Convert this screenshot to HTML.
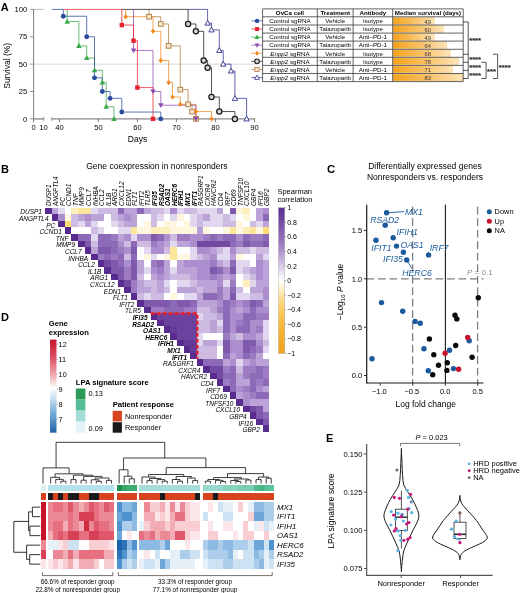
<!DOCTYPE html>
<html><head><meta charset="utf-8"><title>Figure</title>
<style>
html,body{margin:0;padding:0;background:#fff;}
body{width:520px;height:593px;overflow:hidden;}
svg{display:block;font-family:"Liberation Sans",sans-serif;}
</style></head><body>
<svg width="520" height="593" viewBox="0 0 520 593">
<rect width="520" height="593" fill="#ffffff"/>
<g id="panelA">
<text x="0.80" y="10.60" font-size="11" font-weight="bold">A</text>
<line x1="33.60" y1="64.15" x2="255.50" y2="64.15" stroke="#bdbdbd" stroke-width="0.6"/>
<line x1="33.60" y1="9.10" x2="33.60" y2="122.30" stroke="#6e6e6e" stroke-width="0.9"/>
<line x1="33.60" y1="118.90" x2="43.80" y2="118.90" stroke="#8a8a8a" stroke-width="1.4"/>
<line x1="51.80" y1="118.90" x2="255.20" y2="118.90" stroke="#8a8a8a" stroke-width="1.4"/>
<line x1="43.80" y1="116.90" x2="43.80" y2="120.90" stroke="#6a6a6a" stroke-width="0.7"/>
<line x1="51.80" y1="116.90" x2="51.80" y2="120.90" stroke="#6a6a6a" stroke-width="0.7"/>
<line x1="30.00" y1="118.90" x2="33.60" y2="118.90" stroke="#6a6a6a" stroke-width="0.7"/>
<text x="27.20" y="121.60" font-size="7.6" text-anchor="end">0</text>
<line x1="30.00" y1="91.53" x2="33.60" y2="91.53" stroke="#6a6a6a" stroke-width="0.7"/>
<text x="27.20" y="94.23" font-size="7.6" text-anchor="end">25</text>
<line x1="30.00" y1="64.15" x2="33.60" y2="64.15" stroke="#6a6a6a" stroke-width="0.7"/>
<text x="27.20" y="66.85" font-size="7.6" text-anchor="end">50</text>
<line x1="30.00" y1="36.78" x2="33.60" y2="36.78" stroke="#6a6a6a" stroke-width="0.7"/>
<text x="27.20" y="39.48" font-size="7.6" text-anchor="end">75</text>
<line x1="30.00" y1="9.40" x2="33.60" y2="9.40" stroke="#6a6a6a" stroke-width="0.7"/>
<text x="27.20" y="12.10" font-size="7.6" text-anchor="end">100</text>
<text x="33.60" y="129.90" font-size="7.6" text-anchor="middle">0</text>
<text x="43.50" y="129.90" font-size="7.6" text-anchor="middle">10</text>
<line x1="59.40" y1="118.90" x2="59.40" y2="122.20" stroke="#5a5a5a" stroke-width="0.8"/>
<text x="59.40" y="129.90" font-size="7.6" text-anchor="middle">40</text>
<line x1="98.40" y1="118.90" x2="98.40" y2="122.20" stroke="#5a5a5a" stroke-width="0.8"/>
<text x="98.40" y="129.90" font-size="7.6" text-anchor="middle">50</text>
<line x1="137.40" y1="118.90" x2="137.40" y2="122.20" stroke="#5a5a5a" stroke-width="0.8"/>
<text x="137.40" y="129.90" font-size="7.6" text-anchor="middle">60</text>
<line x1="176.40" y1="118.90" x2="176.40" y2="122.20" stroke="#5a5a5a" stroke-width="0.8"/>
<text x="176.40" y="129.90" font-size="7.6" text-anchor="middle">70</text>
<line x1="215.40" y1="118.90" x2="215.40" y2="122.20" stroke="#5a5a5a" stroke-width="0.8"/>
<text x="215.40" y="129.90" font-size="7.6" text-anchor="middle">80</text>
<line x1="254.40" y1="118.90" x2="254.40" y2="122.20" stroke="#5a5a5a" stroke-width="0.8"/>
<text x="254.40" y="129.90" font-size="7.6" text-anchor="middle">90</text>
<text x="137.50" y="141.60" font-size="8.5" text-anchor="middle">Days</text>
<text x="10.00" y="65.80" font-size="8.5" text-anchor="middle" transform="rotate(-90 10.00 65.80)">Survival (%)</text>
<line x1="33.60" y1="9.40" x2="43.60" y2="9.40" stroke="#7d8596" stroke-width="0.6"/>
<path d="M188.10 9.40 H207.60 V23.09 H211.50 V29.93 H219.30 V50.46 H223.20 V64.15 H231.00 V70.99 H234.90 V98.37 H246.60 V118.90" stroke="#2e3192" stroke-width="0.75" fill="none"/>
<path d="M149.10 9.40 H149.10 V16.74 H160.80 V23.96 H168.60 V45.86 H180.30 V89.66 H188.10 V104.34 H192.00 V111.56 H195.90 V118.90" stroke="#b07a3a" stroke-width="0.75" fill="none"/>
<path d="M121.80 9.40 H188.10 V23.96 H195.90 V31.30 H203.70 V60.54 H207.60 V67.76 H211.50 V97.00 H219.30 V111.56 H234.90 V118.90" stroke="#1a1a1a" stroke-width="0.75" fill="none"/>
<path d="M125.70 9.40 H125.70 V16.74 H153.00 V31.30 H160.80 V60.54 H168.60 V82.44 H172.50 V97.00 H180.30 V104.34 H195.90 V111.56 H211.50 V118.90" stroke="#f28a22" stroke-width="0.75" fill="none"/>
<path d="M133.50 9.40 H133.50 V50.46 H153.00 V91.53 H160.80 V105.21 H195.90 V118.90" stroke="#8e4bb0" stroke-width="0.75" fill="none"/>
<path d="M67.20 9.40 H67.20 V21.55 H78.90 V45.86 H86.70 V58.02 H94.50 V70.28 H102.30 V82.44 H106.20 V106.75 H114.00 V118.90" stroke="#3aaa49" stroke-width="0.75" fill="none"/>
<path d="M63.30 9.40 H121.80 V25.06 H133.50 V40.72 H137.40 V87.58 H153.00 V118.90" stroke="#e8202c" stroke-width="0.75" fill="none"/>
<path d="M51.79 9.40 H63.30 V16.24 H86.70 V36.78 H94.50 V77.84 H102.30 V91.53 H110.10 V98.37 H121.80 V112.06 H160.80 V118.90" stroke="#2b4b9b" stroke-width="0.75" fill="none"/>
<path d="M207.60 20.29 L210.26 25.10 L204.94 25.10 Z" fill="#ffffff" stroke="#2e3192" stroke-width="0.9"/>
<path d="M211.50 27.13 L214.16 31.95 L208.84 31.95 Z" fill="#ffffff" stroke="#2e3192" stroke-width="0.9"/>
<path d="M219.30 47.66 L221.96 52.48 L216.64 52.48 Z" fill="#ffffff" stroke="#2e3192" stroke-width="0.9"/>
<path d="M223.20 61.35 L225.86 66.17 L220.54 66.17 Z" fill="#ffffff" stroke="#2e3192" stroke-width="0.9"/>
<path d="M231.00 68.19 L233.66 73.01 L228.34 73.01 Z" fill="#ffffff" stroke="#2e3192" stroke-width="0.9"/>
<path d="M234.90 95.57 L237.56 100.38 L232.24 100.38 Z" fill="#ffffff" stroke="#2e3192" stroke-width="0.9"/>
<path d="M246.60 116.10 L249.26 120.92 L243.94 120.92 Z" fill="#ffffff" stroke="#2e3192" stroke-width="0.9"/>
<rect x="146.75" y="14.39" width="4.70" height="4.70" fill="#f4e6cf" stroke="#b07a3a" stroke-width="0.9"/>
<rect x="158.45" y="21.61" width="4.70" height="4.70" fill="#f4e6cf" stroke="#b07a3a" stroke-width="0.9"/>
<rect x="166.25" y="43.51" width="4.70" height="4.70" fill="#f4e6cf" stroke="#b07a3a" stroke-width="0.9"/>
<rect x="177.95" y="87.31" width="4.70" height="4.70" fill="#f4e6cf" stroke="#b07a3a" stroke-width="0.9"/>
<rect x="185.75" y="101.99" width="4.70" height="4.70" fill="#f4e6cf" stroke="#b07a3a" stroke-width="0.9"/>
<rect x="189.65" y="109.21" width="4.70" height="4.70" fill="#f4e6cf" stroke="#b07a3a" stroke-width="0.9"/>
<rect x="193.55" y="116.55" width="4.70" height="4.70" fill="#f4e6cf" stroke="#b07a3a" stroke-width="0.9"/>
<circle cx="188.10" cy="23.96" r="2.6" fill="#d4d4d4" stroke="#1a1a1a" stroke-width="1.25"/>
<circle cx="195.90" cy="31.30" r="2.6" fill="#d4d4d4" stroke="#1a1a1a" stroke-width="1.25"/>
<circle cx="203.70" cy="60.54" r="2.6" fill="#d4d4d4" stroke="#1a1a1a" stroke-width="1.25"/>
<circle cx="207.60" cy="67.76" r="2.6" fill="#d4d4d4" stroke="#1a1a1a" stroke-width="1.25"/>
<circle cx="211.50" cy="97.00" r="2.6" fill="#d4d4d4" stroke="#1a1a1a" stroke-width="1.25"/>
<circle cx="219.30" cy="111.56" r="2.6" fill="#d4d4d4" stroke="#1a1a1a" stroke-width="1.25"/>
<circle cx="234.90" cy="118.90" r="2.6" fill="#d4d4d4" stroke="#1a1a1a" stroke-width="1.25"/>
<path d="M125.70 14.04 L127.86 16.74 L125.70 19.44 L123.54 16.74 Z" fill="#f28a22"/>
<path d="M153.00 28.60 L155.16 31.30 L153.00 34.00 L150.84 31.30 Z" fill="#f28a22"/>
<path d="M160.80 57.84 L162.96 60.54 L160.80 63.24 L158.64 60.54 Z" fill="#f28a22"/>
<path d="M168.60 79.74 L170.76 82.44 L168.60 85.14 L166.44 82.44 Z" fill="#f28a22"/>
<path d="M172.50 94.30 L174.66 97.00 L172.50 99.70 L170.34 97.00 Z" fill="#f28a22"/>
<path d="M180.30 101.64 L182.46 104.34 L180.30 107.04 L178.14 104.34 Z" fill="#f28a22"/>
<path d="M195.90 108.86 L198.06 111.56 L195.90 114.26 L193.74 111.56 Z" fill="#f28a22"/>
<path d="M211.50 116.20 L213.66 118.90 L211.50 121.60 L209.34 118.90 Z" fill="#f28a22"/>
<path d="M133.50 53.26 L136.16 48.45 L130.84 48.45 Z" fill="#8e4bb0"/>
<path d="M153.00 94.33 L155.66 89.51 L150.34 89.51 Z" fill="#8e4bb0"/>
<path d="M160.80 108.01 L163.46 103.20 L158.14 103.20 Z" fill="#8e4bb0"/>
<path d="M195.90 121.70 L198.56 116.88 L193.24 116.88 Z" fill="#8e4bb0"/>
<path d="M67.20 18.65 L69.95 23.64 L64.45 23.64 Z" fill="#3aaa49"/>
<path d="M78.90 42.96 L81.66 47.95 L76.15 47.95 Z" fill="#3aaa49"/>
<path d="M86.70 55.12 L89.45 60.11 L83.95 60.11 Z" fill="#3aaa49"/>
<path d="M94.50 67.38 L97.25 72.37 L91.75 72.37 Z" fill="#3aaa49"/>
<path d="M102.30 79.54 L105.05 84.52 L99.55 84.52 Z" fill="#3aaa49"/>
<path d="M106.20 103.85 L108.95 108.83 L103.44 108.83 Z" fill="#3aaa49"/>
<path d="M114.00 116.00 L116.75 120.99 L111.25 120.99 Z" fill="#3aaa49"/>
<rect x="119.60" y="22.86" width="4.40" height="4.40" fill="#e8202c"/>
<rect x="131.30" y="38.52" width="4.40" height="4.40" fill="#e8202c"/>
<rect x="135.20" y="85.38" width="4.40" height="4.40" fill="#e8202c"/>
<rect x="150.80" y="116.70" width="4.40" height="4.40" fill="#e8202c"/>
<circle cx="63.30" cy="16.24" r="2.45" fill="#2b4b9b"/>
<circle cx="86.70" cy="36.78" r="2.45" fill="#2b4b9b"/>
<circle cx="94.50" cy="77.84" r="2.45" fill="#2b4b9b"/>
<circle cx="102.30" cy="91.53" r="2.45" fill="#2b4b9b"/>
<circle cx="110.10" cy="98.37" r="2.45" fill="#2b4b9b"/>
<circle cx="121.80" cy="112.06" r="2.45" fill="#2b4b9b"/>
<circle cx="160.80" cy="118.90" r="2.45" fill="#2b4b9b"/>
<defs><linearGradient id="og" x1="0" x2="1" y1="0" y2="0"><stop offset="0" stop-color="#f5a21b"/><stop offset="0.45" stop-color="#f8bd5c"/><stop offset="1" stop-color="#fde4ba"/></linearGradient></defs>
<rect x="393.10" y="17.50" width="41.09" height="6.80" fill="url(#og)" stroke="#f6c06a" stroke-width="0.4"/>
<rect x="393.10" y="25.70" width="50.31" height="6.70" fill="url(#og)" stroke="#f6c06a" stroke-width="0.4"/>
<rect x="393.10" y="33.80" width="41.09" height="6.60" fill="url(#og)" stroke="#f6c06a" stroke-width="0.4"/>
<rect x="393.10" y="41.80" width="53.67" height="6.80" fill="url(#og)" stroke="#f6c06a" stroke-width="0.4"/>
<rect x="393.10" y="50.00" width="57.02" height="6.60" fill="url(#og)" stroke="#f6c06a" stroke-width="0.4"/>
<rect x="393.10" y="58.00" width="65.41" height="6.70" fill="url(#og)" stroke="#f6c06a" stroke-width="0.4"/>
<rect x="393.10" y="66.10" width="59.54" height="6.70" fill="url(#og)" stroke="#f6c06a" stroke-width="0.4"/>
<rect x="393.10" y="74.20" width="69.60" height="6.70" fill="url(#og)" stroke="#f6c06a" stroke-width="0.4"/>
<line x1="262.60" y1="8.90" x2="463.20" y2="8.90" stroke="#3a3a3a" stroke-width="0.8"/>
<line x1="262.60" y1="16.80" x2="463.20" y2="16.80" stroke="#3a3a3a" stroke-width="0.8"/>
<line x1="262.60" y1="25.00" x2="463.20" y2="25.00" stroke="#3a3a3a" stroke-width="0.8"/>
<line x1="262.60" y1="33.10" x2="463.20" y2="33.10" stroke="#3a3a3a" stroke-width="0.8"/>
<line x1="262.60" y1="41.10" x2="463.20" y2="41.10" stroke="#3a3a3a" stroke-width="0.8"/>
<line x1="262.60" y1="49.30" x2="463.20" y2="49.30" stroke="#3a3a3a" stroke-width="0.8"/>
<line x1="262.60" y1="57.30" x2="463.20" y2="57.30" stroke="#3a3a3a" stroke-width="0.8"/>
<line x1="262.60" y1="65.40" x2="463.20" y2="65.40" stroke="#3a3a3a" stroke-width="0.8"/>
<line x1="262.60" y1="73.50" x2="463.20" y2="73.50" stroke="#3a3a3a" stroke-width="0.8"/>
<line x1="262.60" y1="81.60" x2="463.20" y2="81.60" stroke="#3a3a3a" stroke-width="0.8"/>
<line x1="262.60" y1="8.90" x2="262.60" y2="81.60" stroke="#3a3a3a" stroke-width="0.8"/>
<line x1="317.30" y1="8.90" x2="317.30" y2="81.60" stroke="#3a3a3a" stroke-width="0.8"/>
<line x1="353.10" y1="8.90" x2="353.10" y2="81.60" stroke="#3a3a3a" stroke-width="0.8"/>
<line x1="392.70" y1="8.90" x2="392.70" y2="81.60" stroke="#3a3a3a" stroke-width="0.8"/>
<line x1="463.20" y1="8.90" x2="463.20" y2="81.60" stroke="#3a3a3a" stroke-width="0.8"/>
<text x="289.95" y="14.90" font-size="6.2" text-anchor="middle" font-weight="bold">OvCa cell</text>
<text x="335.20" y="14.90" font-size="6.2" text-anchor="middle" font-weight="bold">Treatment</text>
<text x="372.90" y="14.90" font-size="6.2" text-anchor="middle" font-weight="bold">Antibody</text>
<text x="427.95" y="14.90" font-size="6.2" text-anchor="middle" font-weight="bold">Median survival (days)</text>
<text x="289.95" y="23.10" font-size="6.2" text-anchor="middle">Control sgRNA</text>
<text x="335.20" y="23.10" font-size="6.2" text-anchor="middle">Vehicle</text>
<text x="372.90" y="23.10" font-size="6.2" text-anchor="middle">Isotype</text>
<text x="427.80" y="23.70" font-size="5.8" text-anchor="middle" fill="#3a3a3a">49</text>
<text x="289.95" y="31.30" font-size="6.2" text-anchor="middle">Control sgRNA</text>
<text x="335.20" y="31.30" font-size="6.2" text-anchor="middle">Talazoparib</text>
<text x="372.90" y="31.30" font-size="6.2" text-anchor="middle">Isotype</text>
<text x="427.80" y="31.90" font-size="5.8" text-anchor="middle" fill="#3a3a3a">60</text>
<text x="289.95" y="39.40" font-size="6.2" text-anchor="middle">Control sgRNA</text>
<text x="335.20" y="39.40" font-size="6.2" text-anchor="middle">Vehicle</text>
<text x="372.90" y="39.40" font-size="6.2" text-anchor="middle">Anti–PD-1</text>
<text x="427.80" y="40.00" font-size="5.8" text-anchor="middle" fill="#3a3a3a">49</text>
<text x="289.95" y="47.40" font-size="6.2" text-anchor="middle">Control sgRNA</text>
<text x="335.20" y="47.40" font-size="6.2" text-anchor="middle">Talazoparib</text>
<text x="372.90" y="47.40" font-size="6.2" text-anchor="middle">Anti–PD-1</text>
<text x="427.80" y="48.00" font-size="5.8" text-anchor="middle" fill="#3a3a3a">64</text>
<text x="289.95" y="55.60" font-size="6.2" text-anchor="middle"><tspan font-style="italic">Enpp2</tspan> sgRNA</text>
<text x="335.20" y="55.60" font-size="6.2" text-anchor="middle">Vehicle</text>
<text x="372.90" y="55.60" font-size="6.2" text-anchor="middle">Isotype</text>
<text x="427.80" y="56.20" font-size="5.8" text-anchor="middle" fill="#3a3a3a">68</text>
<text x="289.95" y="63.60" font-size="6.2" text-anchor="middle"><tspan font-style="italic">Enpp2</tspan> sgRNA</text>
<text x="335.20" y="63.60" font-size="6.2" text-anchor="middle">Talazoparib</text>
<text x="372.90" y="63.60" font-size="6.2" text-anchor="middle">Isotype</text>
<text x="427.80" y="64.20" font-size="5.8" text-anchor="middle" fill="#3a3a3a">78</text>
<text x="289.95" y="71.70" font-size="6.2" text-anchor="middle"><tspan font-style="italic">Enpp2</tspan> sgRNA</text>
<text x="335.20" y="71.70" font-size="6.2" text-anchor="middle">Vehicle</text>
<text x="372.90" y="71.70" font-size="6.2" text-anchor="middle">Anti–PD-1</text>
<text x="427.80" y="72.30" font-size="5.8" text-anchor="middle" fill="#3a3a3a">71</text>
<text x="289.95" y="79.80" font-size="6.2" text-anchor="middle"><tspan font-style="italic">Enpp2</tspan> sgRNA</text>
<text x="335.20" y="79.80" font-size="6.2" text-anchor="middle">Talazoparib</text>
<text x="372.90" y="79.80" font-size="6.2" text-anchor="middle">Anti–PD-1</text>
<text x="427.80" y="80.40" font-size="5.8" text-anchor="middle" fill="#3a3a3a">83</text>
<line x1="251.30" y1="20.90" x2="262.20" y2="20.90" stroke="#2b4b9b" stroke-width="0.7"/>
<circle cx="257.00" cy="20.90" r="2.205" fill="#2b4b9b"/>
<line x1="251.30" y1="29.05" x2="262.20" y2="29.05" stroke="#e8202c" stroke-width="0.7"/>
<rect x="255.02" y="27.07" width="3.96" height="3.96" fill="#e8202c"/>
<line x1="251.30" y1="37.10" x2="262.20" y2="37.10" stroke="#3aaa49" stroke-width="0.7"/>
<path d="M257.00 34.49 L259.48 38.98 L254.52 38.98 Z" fill="#3aaa49"/>
<line x1="251.30" y1="45.20" x2="262.20" y2="45.20" stroke="#8e4bb0" stroke-width="0.7"/>
<path d="M257.00 47.72 L259.39 43.39 L254.61 43.39 Z" fill="#8e4bb0"/>
<line x1="251.30" y1="53.30" x2="262.20" y2="53.30" stroke="#f28a22" stroke-width="0.7"/>
<path d="M257.00 50.87 L258.94 53.30 L257.00 55.73 L255.06 53.30 Z" fill="#f28a22"/>
<line x1="251.30" y1="61.35" x2="262.20" y2="61.35" stroke="#1a1a1a" stroke-width="0.7"/>
<circle cx="257.00" cy="61.35" r="2.3400000000000003" fill="#d4d4d4" stroke="#1a1a1a" stroke-width="1.125"/>
<line x1="251.30" y1="69.45" x2="262.20" y2="69.45" stroke="#b07a3a" stroke-width="0.7"/>
<rect x="254.88" y="67.34" width="4.23" height="4.23" fill="#f4e6cf" stroke="#b07a3a" stroke-width="0.81"/>
<line x1="251.30" y1="77.55" x2="262.20" y2="77.55" stroke="#2e3192" stroke-width="0.7"/>
<path d="M257.00 75.03 L259.39 79.36 L254.61 79.36 Z" fill="#ffffff" stroke="#2e3192" stroke-width="0.81"/>
<path d="M463.2 21.9 H468.2 V78.5 H463.2 M463.2 54.2 H468.2 M463.2 62.3 H468.2 M463.2 70.4 H468.2" stroke="#2a2a2a" stroke-width="0.8" fill="none"/>
<path d="M481.3 62.3 H486.1 V78.5 H481.3" stroke="#2a2a2a" stroke-width="0.8" fill="none"/>
<path d="M492.9 54.2 H497.6 V78.5 H492.9" stroke="#2a2a2a" stroke-width="0.8" fill="none"/>
<text x="469.20" y="43.00" font-size="7.6" font-weight="bold" fill="#2a2a2a" stroke="#2a2a2a" stroke-width="0.15">****</text>
<text x="469.20" y="61.60" font-size="7.6" font-weight="bold" fill="#2a2a2a" stroke="#2a2a2a" stroke-width="0.15">****</text>
<text x="469.20" y="69.70" font-size="7.6" font-weight="bold" fill="#2a2a2a" stroke="#2a2a2a" stroke-width="0.15">****</text>
<text x="469.20" y="77.80" font-size="7.6" font-weight="bold" fill="#2a2a2a" stroke="#2a2a2a" stroke-width="0.15">****</text>
<text x="487.00" y="73.50" font-size="7.6" font-weight="bold" fill="#2a2a2a" stroke="#2a2a2a" stroke-width="0.15">***</text>
<text x="498.80" y="69.70" font-size="7.6" font-weight="bold" fill="#2a2a2a" stroke="#2a2a2a" stroke-width="0.15">****</text>
</g>
<g id="panelB">
<text x="0.90" y="173.00" font-size="11" font-weight="bold">B</text>
<text x="156.90" y="169.30" font-size="8.5" text-anchor="middle">Gene coexpression in nonresponders</text>
<g shape-rendering="crispEdges">
<rect x="45.00" y="207.50" width="6.65" height="6.65" fill="#582c8e"/>
<rect x="51.60" y="207.50" width="6.65" height="6.65" fill="#bca3d7"/>
<rect x="58.20" y="207.50" width="6.65" height="6.65" fill="#e1d7ee"/>
<rect x="64.80" y="207.50" width="6.65" height="6.65" fill="#ffffff"/>
<rect x="71.40" y="207.50" width="6.65" height="6.65" fill="#feeebc"/>
<rect x="78.00" y="207.50" width="6.65" height="6.65" fill="#fde69a"/>
<rect x="84.60" y="207.50" width="6.65" height="6.65" fill="#fde69a"/>
<rect x="91.20" y="207.50" width="6.65" height="6.65" fill="#e1d7ee"/>
<rect x="97.80" y="207.50" width="6.65" height="6.65" fill="#cdbbe2"/>
<rect x="104.40" y="207.50" width="6.65" height="6.65" fill="#cdbbe2"/>
<rect x="111.00" y="207.50" width="6.65" height="6.65" fill="#cdbbe2"/>
<rect x="117.60" y="207.50" width="6.65" height="6.65" fill="#8d6ab7"/>
<rect x="51.60" y="214.10" width="6.65" height="6.65" fill="#582c8e"/>
<rect x="58.20" y="214.10" width="6.65" height="6.65" fill="#ac8dce"/>
<rect x="64.80" y="214.10" width="6.65" height="6.65" fill="#fef6dd"/>
<rect x="71.40" y="214.10" width="6.65" height="6.65" fill="#cdbbe2"/>
<rect x="78.00" y="214.10" width="6.65" height="6.65" fill="#bca3d7"/>
<rect x="84.60" y="214.10" width="6.65" height="6.65" fill="#ac8dce"/>
<rect x="91.20" y="214.10" width="6.65" height="6.65" fill="#bca3d7"/>
<rect x="97.80" y="214.10" width="6.65" height="6.65" fill="#bca3d7"/>
<rect x="104.40" y="214.10" width="6.65" height="6.65" fill="#ffffff"/>
<rect x="111.00" y="214.10" width="6.65" height="6.65" fill="#cdbbe2"/>
<rect x="117.60" y="214.10" width="6.65" height="6.65" fill="#bca3d7"/>
<rect x="58.20" y="220.70" width="6.65" height="6.65" fill="#582c8e"/>
<rect x="64.80" y="220.70" width="6.65" height="6.65" fill="#fcdd78"/>
<rect x="71.40" y="220.70" width="6.65" height="6.65" fill="#cdbbe2"/>
<rect x="78.00" y="220.70" width="6.65" height="6.65" fill="#e1d7ee"/>
<rect x="84.60" y="220.70" width="6.65" height="6.65" fill="#bca3d7"/>
<rect x="91.20" y="220.70" width="6.65" height="6.65" fill="#e1d7ee"/>
<rect x="97.80" y="220.70" width="6.65" height="6.65" fill="#ffffff"/>
<rect x="104.40" y="220.70" width="6.65" height="6.65" fill="#ffffff"/>
<rect x="111.00" y="220.70" width="6.65" height="6.65" fill="#e1d7ee"/>
<rect x="117.60" y="220.70" width="6.65" height="6.65" fill="#cdbbe2"/>
<rect x="64.80" y="227.30" width="6.65" height="6.65" fill="#582c8e"/>
<rect x="71.40" y="227.30" width="6.65" height="6.65" fill="#ffffff"/>
<rect x="78.00" y="227.30" width="6.65" height="6.65" fill="#ffffff"/>
<rect x="84.60" y="227.30" width="6.65" height="6.65" fill="#ffffff"/>
<rect x="91.20" y="227.30" width="6.65" height="6.65" fill="#cdbbe2"/>
<rect x="97.80" y="227.30" width="6.65" height="6.65" fill="#e1d7ee"/>
<rect x="104.40" y="227.30" width="6.65" height="6.65" fill="#ffffff"/>
<rect x="111.00" y="227.30" width="6.65" height="6.65" fill="#ffffff"/>
<rect x="117.60" y="227.30" width="6.65" height="6.65" fill="#e1d7ee"/>
<rect x="71.40" y="233.90" width="6.65" height="6.65" fill="#582c8e"/>
<rect x="78.00" y="233.90" width="6.65" height="6.65" fill="#8d6ab7"/>
<rect x="84.60" y="233.90" width="6.65" height="6.65" fill="#8d6ab7"/>
<rect x="91.20" y="233.90" width="6.65" height="6.65" fill="#e1d7ee"/>
<rect x="97.80" y="233.90" width="6.65" height="6.65" fill="#8d6ab7"/>
<rect x="104.40" y="233.90" width="6.65" height="6.65" fill="#8d6ab7"/>
<rect x="111.00" y="233.90" width="6.65" height="6.65" fill="#9c7bc2"/>
<rect x="117.60" y="233.90" width="6.65" height="6.65" fill="#bca3d7"/>
<rect x="78.00" y="240.50" width="6.65" height="6.65" fill="#582c8e"/>
<rect x="84.60" y="240.50" width="6.65" height="6.65" fill="#7f5aac"/>
<rect x="91.20" y="240.50" width="6.65" height="6.65" fill="#cdbbe2"/>
<rect x="97.80" y="240.50" width="6.65" height="6.65" fill="#8d6ab7"/>
<rect x="104.40" y="240.50" width="6.65" height="6.65" fill="#8d6ab7"/>
<rect x="111.00" y="240.50" width="6.65" height="6.65" fill="#8d6ab7"/>
<rect x="117.60" y="240.50" width="6.65" height="6.65" fill="#ac8dce"/>
<rect x="84.60" y="247.10" width="6.65" height="6.65" fill="#582c8e"/>
<rect x="91.20" y="247.10" width="6.65" height="6.65" fill="#bca3d7"/>
<rect x="97.80" y="247.10" width="6.65" height="6.65" fill="#7f5aac"/>
<rect x="104.40" y="247.10" width="6.65" height="6.65" fill="#7f5aac"/>
<rect x="111.00" y="247.10" width="6.65" height="6.65" fill="#8d6ab7"/>
<rect x="117.60" y="247.10" width="6.65" height="6.65" fill="#9c7bc2"/>
<rect x="91.20" y="253.70" width="6.65" height="6.65" fill="#582c8e"/>
<rect x="97.80" y="253.70" width="6.65" height="6.65" fill="#9c7bc2"/>
<rect x="104.40" y="253.70" width="6.65" height="6.65" fill="#8d6ab7"/>
<rect x="111.00" y="253.70" width="6.65" height="6.65" fill="#9c7bc2"/>
<rect x="117.60" y="253.70" width="6.65" height="6.65" fill="#8d6ab7"/>
<rect x="97.80" y="260.30" width="6.65" height="6.65" fill="#582c8e"/>
<rect x="104.40" y="260.30" width="6.65" height="6.65" fill="#724aa2"/>
<rect x="111.00" y="260.30" width="6.65" height="6.65" fill="#7f5aac"/>
<rect x="117.60" y="260.30" width="6.65" height="6.65" fill="#8d6ab7"/>
<rect x="104.40" y="266.90" width="6.65" height="6.65" fill="#582c8e"/>
<rect x="111.00" y="266.90" width="6.65" height="6.65" fill="#7f5aac"/>
<rect x="117.60" y="266.90" width="6.65" height="6.65" fill="#7f5aac"/>
<rect x="111.00" y="273.50" width="6.65" height="6.65" fill="#582c8e"/>
<rect x="117.60" y="273.50" width="6.65" height="6.65" fill="#7f5aac"/>
<rect x="117.60" y="280.10" width="6.65" height="6.65" fill="#582c8e"/>
<rect x="124.20" y="207.50" width="6.65" height="6.65" fill="#bca3d7"/>
<rect x="130.80" y="207.50" width="6.65" height="6.65" fill="#bca3d7"/>
<rect x="137.40" y="207.50" width="6.65" height="6.65" fill="#8d6ab7"/>
<rect x="144.00" y="207.50" width="6.65" height="6.65" fill="#bca3d7"/>
<rect x="150.60" y="207.50" width="6.65" height="6.65" fill="#cdbbe2"/>
<rect x="157.20" y="207.50" width="6.65" height="6.65" fill="#cdbbe2"/>
<rect x="163.80" y="207.50" width="6.65" height="6.65" fill="#e1d7ee"/>
<rect x="170.40" y="207.50" width="6.65" height="6.65" fill="#ac8dce"/>
<rect x="177.00" y="207.50" width="6.65" height="6.65" fill="#e1d7ee"/>
<rect x="183.60" y="207.50" width="6.65" height="6.65" fill="#cdbbe2"/>
<rect x="190.20" y="207.50" width="6.65" height="6.65" fill="#cdbbe2"/>
<rect x="196.80" y="207.50" width="6.65" height="6.65" fill="#e1d7ee"/>
<rect x="124.20" y="214.10" width="6.65" height="6.65" fill="#ac8dce"/>
<rect x="130.80" y="214.10" width="6.65" height="6.65" fill="#bca3d7"/>
<rect x="137.40" y="214.10" width="6.65" height="6.65" fill="#ffffff"/>
<rect x="144.00" y="214.10" width="6.65" height="6.65" fill="#ffffff"/>
<rect x="150.60" y="214.10" width="6.65" height="6.65" fill="#cdbbe2"/>
<rect x="157.20" y="214.10" width="6.65" height="6.65" fill="#e1d7ee"/>
<rect x="163.80" y="214.10" width="6.65" height="6.65" fill="#ffffff"/>
<rect x="170.40" y="214.10" width="6.65" height="6.65" fill="#e1d7ee"/>
<rect x="177.00" y="214.10" width="6.65" height="6.65" fill="#fef6dd"/>
<rect x="183.60" y="214.10" width="6.65" height="6.65" fill="#ffffff"/>
<rect x="190.20" y="214.10" width="6.65" height="6.65" fill="#e1d7ee"/>
<rect x="196.80" y="214.10" width="6.65" height="6.65" fill="#cdbbe2"/>
<rect x="124.20" y="220.70" width="6.65" height="6.65" fill="#bca3d7"/>
<rect x="130.80" y="220.70" width="6.65" height="6.65" fill="#bca3d7"/>
<rect x="137.40" y="220.70" width="6.65" height="6.65" fill="#ffffff"/>
<rect x="144.00" y="220.70" width="6.65" height="6.65" fill="#fef6dd"/>
<rect x="150.60" y="220.70" width="6.65" height="6.65" fill="#cdbbe2"/>
<rect x="157.20" y="220.70" width="6.65" height="6.65" fill="#ffffff"/>
<rect x="163.80" y="220.70" width="6.65" height="6.65" fill="#fef6dd"/>
<rect x="170.40" y="220.70" width="6.65" height="6.65" fill="#fef6dd"/>
<rect x="177.00" y="220.70" width="6.65" height="6.65" fill="#ffffff"/>
<rect x="183.60" y="220.70" width="6.65" height="6.65" fill="#fef6dd"/>
<rect x="190.20" y="220.70" width="6.65" height="6.65" fill="#e1d7ee"/>
<rect x="196.80" y="220.70" width="6.65" height="6.65" fill="#cdbbe2"/>
<rect x="124.20" y="227.30" width="6.65" height="6.65" fill="#e1d7ee"/>
<rect x="130.80" y="227.30" width="6.65" height="6.65" fill="#fde69a"/>
<rect x="137.40" y="227.30" width="6.65" height="6.65" fill="#fef6dd"/>
<rect x="144.00" y="227.30" width="6.65" height="6.65" fill="#fef6dd"/>
<rect x="150.60" y="227.30" width="6.65" height="6.65" fill="#feeebc"/>
<rect x="157.20" y="227.30" width="6.65" height="6.65" fill="#feeebc"/>
<rect x="163.80" y="227.30" width="6.65" height="6.65" fill="#feeebc"/>
<rect x="170.40" y="227.30" width="6.65" height="6.65" fill="#fef6dd"/>
<rect x="177.00" y="227.30" width="6.65" height="6.65" fill="#fef6dd"/>
<rect x="183.60" y="227.30" width="6.65" height="6.65" fill="#fef6dd"/>
<rect x="190.20" y="227.30" width="6.65" height="6.65" fill="#fef6dd"/>
<rect x="196.80" y="227.30" width="6.65" height="6.65" fill="#bca3d7"/>
<rect x="124.20" y="233.90" width="6.65" height="6.65" fill="#ac8dce"/>
<rect x="130.80" y="233.90" width="6.65" height="6.65" fill="#e1d7ee"/>
<rect x="137.40" y="233.90" width="6.65" height="6.65" fill="#ac8dce"/>
<rect x="144.00" y="233.90" width="6.65" height="6.65" fill="#ac8dce"/>
<rect x="150.60" y="233.90" width="6.65" height="6.65" fill="#7f5aac"/>
<rect x="157.20" y="233.90" width="6.65" height="6.65" fill="#8d6ab7"/>
<rect x="163.80" y="233.90" width="6.65" height="6.65" fill="#ac8dce"/>
<rect x="170.40" y="233.90" width="6.65" height="6.65" fill="#cdbbe2"/>
<rect x="177.00" y="233.90" width="6.65" height="6.65" fill="#9c7bc2"/>
<rect x="183.60" y="233.90" width="6.65" height="6.65" fill="#9c7bc2"/>
<rect x="190.20" y="233.90" width="6.65" height="6.65" fill="#ac8dce"/>
<rect x="196.80" y="233.90" width="6.65" height="6.65" fill="#ac8dce"/>
<rect x="124.20" y="240.50" width="6.65" height="6.65" fill="#cdbbe2"/>
<rect x="130.80" y="240.50" width="6.65" height="6.65" fill="#8d6ab7"/>
<rect x="137.40" y="240.50" width="6.65" height="6.65" fill="#cdbbe2"/>
<rect x="144.00" y="240.50" width="6.65" height="6.65" fill="#cdbbe2"/>
<rect x="150.60" y="240.50" width="6.65" height="6.65" fill="#9c7bc2"/>
<rect x="157.20" y="240.50" width="6.65" height="6.65" fill="#ac8dce"/>
<rect x="163.80" y="240.50" width="6.65" height="6.65" fill="#bca3d7"/>
<rect x="170.40" y="240.50" width="6.65" height="6.65" fill="#e1d7ee"/>
<rect x="177.00" y="240.50" width="6.65" height="6.65" fill="#bca3d7"/>
<rect x="183.60" y="240.50" width="6.65" height="6.65" fill="#bca3d7"/>
<rect x="190.20" y="240.50" width="6.65" height="6.65" fill="#ac8dce"/>
<rect x="196.80" y="240.50" width="6.65" height="6.65" fill="#724aa2"/>
<rect x="124.20" y="247.10" width="6.65" height="6.65" fill="#ac8dce"/>
<rect x="130.80" y="247.10" width="6.65" height="6.65" fill="#7f5aac"/>
<rect x="137.40" y="247.10" width="6.65" height="6.65" fill="#ffffff"/>
<rect x="144.00" y="247.10" width="6.65" height="6.65" fill="#e1d7ee"/>
<rect x="150.60" y="247.10" width="6.65" height="6.65" fill="#ac8dce"/>
<rect x="157.20" y="247.10" width="6.65" height="6.65" fill="#ac8dce"/>
<rect x="163.80" y="247.10" width="6.65" height="6.65" fill="#cdbbe2"/>
<rect x="170.40" y="247.10" width="6.65" height="6.65" fill="#fde69a"/>
<rect x="177.00" y="247.10" width="6.65" height="6.65" fill="#ffffff"/>
<rect x="183.60" y="247.10" width="6.65" height="6.65" fill="#ffffff"/>
<rect x="190.20" y="247.10" width="6.65" height="6.65" fill="#e1d7ee"/>
<rect x="196.80" y="247.10" width="6.65" height="6.65" fill="#ac8dce"/>
<rect x="124.20" y="253.70" width="6.65" height="6.65" fill="#cdbbe2"/>
<rect x="130.80" y="253.70" width="6.65" height="6.65" fill="#8d6ab7"/>
<rect x="137.40" y="253.70" width="6.65" height="6.65" fill="#ffffff"/>
<rect x="144.00" y="253.70" width="6.65" height="6.65" fill="#fef6dd"/>
<rect x="150.60" y="253.70" width="6.65" height="6.65" fill="#e1d7ee"/>
<rect x="157.20" y="253.70" width="6.65" height="6.65" fill="#ffffff"/>
<rect x="163.80" y="253.70" width="6.65" height="6.65" fill="#fef6dd"/>
<rect x="170.40" y="253.70" width="6.65" height="6.65" fill="#fde69a"/>
<rect x="177.00" y="253.70" width="6.65" height="6.65" fill="#fef6dd"/>
<rect x="183.60" y="253.70" width="6.65" height="6.65" fill="#fef6dd"/>
<rect x="190.20" y="253.70" width="6.65" height="6.65" fill="#e1d7ee"/>
<rect x="196.80" y="253.70" width="6.65" height="6.65" fill="#cdbbe2"/>
<rect x="124.20" y="260.30" width="6.65" height="6.65" fill="#ac8dce"/>
<rect x="130.80" y="260.30" width="6.65" height="6.65" fill="#7f5aac"/>
<rect x="137.40" y="260.30" width="6.65" height="6.65" fill="#bca3d7"/>
<rect x="144.00" y="260.30" width="6.65" height="6.65" fill="#ffffff"/>
<rect x="150.60" y="260.30" width="6.65" height="6.65" fill="#9c7bc2"/>
<rect x="157.20" y="260.30" width="6.65" height="6.65" fill="#8d6ab7"/>
<rect x="163.80" y="260.30" width="6.65" height="6.65" fill="#bca3d7"/>
<rect x="170.40" y="260.30" width="6.65" height="6.65" fill="#ffffff"/>
<rect x="177.00" y="260.30" width="6.65" height="6.65" fill="#bca3d7"/>
<rect x="183.60" y="260.30" width="6.65" height="6.65" fill="#ac8dce"/>
<rect x="190.20" y="260.30" width="6.65" height="6.65" fill="#ac8dce"/>
<rect x="196.80" y="260.30" width="6.65" height="6.65" fill="#ac8dce"/>
<rect x="124.20" y="266.90" width="6.65" height="6.65" fill="#9c7bc2"/>
<rect x="130.80" y="266.90" width="6.65" height="6.65" fill="#7f5aac"/>
<rect x="137.40" y="266.90" width="6.65" height="6.65" fill="#bca3d7"/>
<rect x="144.00" y="266.90" width="6.65" height="6.65" fill="#e1d7ee"/>
<rect x="150.60" y="266.90" width="6.65" height="6.65" fill="#ac8dce"/>
<rect x="157.20" y="266.90" width="6.65" height="6.65" fill="#9c7bc2"/>
<rect x="163.80" y="266.90" width="6.65" height="6.65" fill="#bca3d7"/>
<rect x="170.40" y="266.90" width="6.65" height="6.65" fill="#e1d7ee"/>
<rect x="177.00" y="266.90" width="6.65" height="6.65" fill="#bca3d7"/>
<rect x="183.60" y="266.90" width="6.65" height="6.65" fill="#bca3d7"/>
<rect x="190.20" y="266.90" width="6.65" height="6.65" fill="#bca3d7"/>
<rect x="196.80" y="266.90" width="6.65" height="6.65" fill="#ac8dce"/>
<rect x="124.20" y="273.50" width="6.65" height="6.65" fill="#9c7bc2"/>
<rect x="130.80" y="273.50" width="6.65" height="6.65" fill="#7f5aac"/>
<rect x="137.40" y="273.50" width="6.65" height="6.65" fill="#cdbbe2"/>
<rect x="144.00" y="273.50" width="6.65" height="6.65" fill="#ffffff"/>
<rect x="150.60" y="273.50" width="6.65" height="6.65" fill="#bca3d7"/>
<rect x="157.20" y="273.50" width="6.65" height="6.65" fill="#ac8dce"/>
<rect x="163.80" y="273.50" width="6.65" height="6.65" fill="#bca3d7"/>
<rect x="170.40" y="273.50" width="6.65" height="6.65" fill="#cdbbe2"/>
<rect x="177.00" y="273.50" width="6.65" height="6.65" fill="#cdbbe2"/>
<rect x="183.60" y="273.50" width="6.65" height="6.65" fill="#cdbbe2"/>
<rect x="190.20" y="273.50" width="6.65" height="6.65" fill="#bca3d7"/>
<rect x="196.80" y="273.50" width="6.65" height="6.65" fill="#ac8dce"/>
<rect x="124.20" y="280.10" width="6.65" height="6.65" fill="#724aa2"/>
<rect x="130.80" y="280.10" width="6.65" height="6.65" fill="#9c7bc2"/>
<rect x="137.40" y="280.10" width="6.65" height="6.65" fill="#bca3d7"/>
<rect x="144.00" y="280.10" width="6.65" height="6.65" fill="#cdbbe2"/>
<rect x="150.60" y="280.10" width="6.65" height="6.65" fill="#cdbbe2"/>
<rect x="157.20" y="280.10" width="6.65" height="6.65" fill="#bca3d7"/>
<rect x="163.80" y="280.10" width="6.65" height="6.65" fill="#e1d7ee"/>
<rect x="170.40" y="280.10" width="6.65" height="6.65" fill="#ffffff"/>
<rect x="177.00" y="280.10" width="6.65" height="6.65" fill="#e1d7ee"/>
<rect x="183.60" y="280.10" width="6.65" height="6.65" fill="#e1d7ee"/>
<rect x="190.20" y="280.10" width="6.65" height="6.65" fill="#cdbbe2"/>
<rect x="196.80" y="280.10" width="6.65" height="6.65" fill="#bca3d7"/>
<rect x="203.40" y="207.50" width="6.65" height="6.65" fill="#e1d7ee"/>
<rect x="210.00" y="207.50" width="6.65" height="6.65" fill="#e1d7ee"/>
<rect x="216.60" y="207.50" width="6.65" height="6.65" fill="#bca3d7"/>
<rect x="223.20" y="207.50" width="6.65" height="6.65" fill="#ffffff"/>
<rect x="229.80" y="207.50" width="6.65" height="6.65" fill="#7f5aac"/>
<rect x="236.40" y="207.50" width="6.65" height="6.65" fill="#fef6dd"/>
<rect x="243.00" y="207.50" width="6.65" height="6.65" fill="#feeebc"/>
<rect x="249.60" y="207.50" width="6.65" height="6.65" fill="#ffffff"/>
<rect x="256.20" y="207.50" width="6.65" height="6.65" fill="#bca3d7"/>
<rect x="262.80" y="207.50" width="6.65" height="6.65" fill="#ac8dce"/>
<rect x="203.40" y="214.10" width="6.65" height="6.65" fill="#bca3d7"/>
<rect x="210.00" y="214.10" width="6.65" height="6.65" fill="#e1d7ee"/>
<rect x="216.60" y="214.10" width="6.65" height="6.65" fill="#e1d7ee"/>
<rect x="223.20" y="214.10" width="6.65" height="6.65" fill="#cdbbe2"/>
<rect x="229.80" y="214.10" width="6.65" height="6.65" fill="#e1d7ee"/>
<rect x="236.40" y="214.10" width="6.65" height="6.65" fill="#ffffff"/>
<rect x="243.00" y="214.10" width="6.65" height="6.65" fill="#fef6dd"/>
<rect x="249.60" y="214.10" width="6.65" height="6.65" fill="#ffffff"/>
<rect x="256.20" y="214.10" width="6.65" height="6.65" fill="#bca3d7"/>
<rect x="262.80" y="214.10" width="6.65" height="6.65" fill="#8d6ab7"/>
<rect x="203.40" y="220.70" width="6.65" height="6.65" fill="#e1d7ee"/>
<rect x="210.00" y="220.70" width="6.65" height="6.65" fill="#e1d7ee"/>
<rect x="216.60" y="220.70" width="6.65" height="6.65" fill="#e1d7ee"/>
<rect x="223.20" y="220.70" width="6.65" height="6.65" fill="#cdbbe2"/>
<rect x="229.80" y="220.70" width="6.65" height="6.65" fill="#cdbbe2"/>
<rect x="236.40" y="220.70" width="6.65" height="6.65" fill="#fef6dd"/>
<rect x="243.00" y="220.70" width="6.65" height="6.65" fill="#ffffff"/>
<rect x="249.60" y="220.70" width="6.65" height="6.65" fill="#cdbbe2"/>
<rect x="256.20" y="220.70" width="6.65" height="6.65" fill="#e1d7ee"/>
<rect x="262.80" y="220.70" width="6.65" height="6.65" fill="#bca3d7"/>
<rect x="203.40" y="227.30" width="6.65" height="6.65" fill="#fef6dd"/>
<rect x="210.00" y="227.30" width="6.65" height="6.65" fill="#ffffff"/>
<rect x="216.60" y="227.30" width="6.65" height="6.65" fill="#ffffff"/>
<rect x="223.20" y="227.30" width="6.65" height="6.65" fill="#fef6dd"/>
<rect x="229.80" y="227.30" width="6.65" height="6.65" fill="#fde69a"/>
<rect x="236.40" y="227.30" width="6.65" height="6.65" fill="#fef6dd"/>
<rect x="243.00" y="227.30" width="6.65" height="6.65" fill="#feeebc"/>
<rect x="249.60" y="227.30" width="6.65" height="6.65" fill="#fde69a"/>
<rect x="256.20" y="227.30" width="6.65" height="6.65" fill="#fef6dd"/>
<rect x="262.80" y="227.30" width="6.65" height="6.65" fill="#fcdd78"/>
<rect x="203.40" y="233.90" width="6.65" height="6.65" fill="#9c7bc2"/>
<rect x="210.00" y="233.90" width="6.65" height="6.65" fill="#8d6ab7"/>
<rect x="216.60" y="233.90" width="6.65" height="6.65" fill="#9c7bc2"/>
<rect x="223.20" y="233.90" width="6.65" height="6.65" fill="#8d6ab7"/>
<rect x="229.80" y="233.90" width="6.65" height="6.65" fill="#8d6ab7"/>
<rect x="236.40" y="233.90" width="6.65" height="6.65" fill="#ac8dce"/>
<rect x="243.00" y="233.90" width="6.65" height="6.65" fill="#8d6ab7"/>
<rect x="249.60" y="233.90" width="6.65" height="6.65" fill="#9c7bc2"/>
<rect x="256.20" y="233.90" width="6.65" height="6.65" fill="#9c7bc2"/>
<rect x="262.80" y="233.90" width="6.65" height="6.65" fill="#8d6ab7"/>
<rect x="203.40" y="240.50" width="6.65" height="6.65" fill="#724aa2"/>
<rect x="210.00" y="240.50" width="6.65" height="6.65" fill="#724aa2"/>
<rect x="216.60" y="240.50" width="6.65" height="6.65" fill="#724aa2"/>
<rect x="223.20" y="240.50" width="6.65" height="6.65" fill="#724aa2"/>
<rect x="229.80" y="240.50" width="6.65" height="6.65" fill="#8d6ab7"/>
<rect x="236.40" y="240.50" width="6.65" height="6.65" fill="#9c7bc2"/>
<rect x="243.00" y="240.50" width="6.65" height="6.65" fill="#7f5aac"/>
<rect x="249.60" y="240.50" width="6.65" height="6.65" fill="#8d6ab7"/>
<rect x="256.20" y="240.50" width="6.65" height="6.65" fill="#8d6ab7"/>
<rect x="262.80" y="240.50" width="6.65" height="6.65" fill="#7f5aac"/>
<rect x="203.40" y="247.10" width="6.65" height="6.65" fill="#ac8dce"/>
<rect x="210.00" y="247.10" width="6.65" height="6.65" fill="#bca3d7"/>
<rect x="216.60" y="247.10" width="6.65" height="6.65" fill="#cdbbe2"/>
<rect x="223.20" y="247.10" width="6.65" height="6.65" fill="#e1d7ee"/>
<rect x="229.80" y="247.10" width="6.65" height="6.65" fill="#ac8dce"/>
<rect x="236.40" y="247.10" width="6.65" height="6.65" fill="#cdbbe2"/>
<rect x="243.00" y="247.10" width="6.65" height="6.65" fill="#cdbbe2"/>
<rect x="249.60" y="247.10" width="6.65" height="6.65" fill="#e1d7ee"/>
<rect x="256.20" y="247.10" width="6.65" height="6.65" fill="#cdbbe2"/>
<rect x="262.80" y="247.10" width="6.65" height="6.65" fill="#cdbbe2"/>
<rect x="203.40" y="253.70" width="6.65" height="6.65" fill="#bca3d7"/>
<rect x="210.00" y="253.70" width="6.65" height="6.65" fill="#ac8dce"/>
<rect x="216.60" y="253.70" width="6.65" height="6.65" fill="#e1d7ee"/>
<rect x="223.20" y="253.70" width="6.65" height="6.65" fill="#e1d7ee"/>
<rect x="229.80" y="253.70" width="6.65" height="6.65" fill="#bca3d7"/>
<rect x="236.40" y="253.70" width="6.65" height="6.65" fill="#fef6dd"/>
<rect x="243.00" y="253.70" width="6.65" height="6.65" fill="#ffffff"/>
<rect x="249.60" y="253.70" width="6.65" height="6.65" fill="#ffffff"/>
<rect x="256.20" y="253.70" width="6.65" height="6.65" fill="#bca3d7"/>
<rect x="262.80" y="253.70" width="6.65" height="6.65" fill="#e1d7ee"/>
<rect x="203.40" y="260.30" width="6.65" height="6.65" fill="#ac8dce"/>
<rect x="210.00" y="260.30" width="6.65" height="6.65" fill="#9c7bc2"/>
<rect x="216.60" y="260.30" width="6.65" height="6.65" fill="#bca3d7"/>
<rect x="223.20" y="260.30" width="6.65" height="6.65" fill="#cdbbe2"/>
<rect x="229.80" y="260.30" width="6.65" height="6.65" fill="#8d6ab7"/>
<rect x="236.40" y="260.30" width="6.65" height="6.65" fill="#e1d7ee"/>
<rect x="243.00" y="260.30" width="6.65" height="6.65" fill="#e1d7ee"/>
<rect x="249.60" y="260.30" width="6.65" height="6.65" fill="#ffffff"/>
<rect x="256.20" y="260.30" width="6.65" height="6.65" fill="#ac8dce"/>
<rect x="262.80" y="260.30" width="6.65" height="6.65" fill="#bca3d7"/>
<rect x="203.40" y="266.90" width="6.65" height="6.65" fill="#ac8dce"/>
<rect x="210.00" y="266.90" width="6.65" height="6.65" fill="#7f5aac"/>
<rect x="216.60" y="266.90" width="6.65" height="6.65" fill="#8d6ab7"/>
<rect x="223.20" y="266.90" width="6.65" height="6.65" fill="#ac8dce"/>
<rect x="229.80" y="266.90" width="6.65" height="6.65" fill="#7f5aac"/>
<rect x="236.40" y="266.90" width="6.65" height="6.65" fill="#e1d7ee"/>
<rect x="243.00" y="266.90" width="6.65" height="6.65" fill="#cdbbe2"/>
<rect x="249.60" y="266.90" width="6.65" height="6.65" fill="#bca3d7"/>
<rect x="256.20" y="266.90" width="6.65" height="6.65" fill="#ac8dce"/>
<rect x="262.80" y="266.90" width="6.65" height="6.65" fill="#bca3d7"/>
<rect x="203.40" y="273.50" width="6.65" height="6.65" fill="#ac8dce"/>
<rect x="210.00" y="273.50" width="6.65" height="6.65" fill="#9c7bc2"/>
<rect x="216.60" y="273.50" width="6.65" height="6.65" fill="#ac8dce"/>
<rect x="223.20" y="273.50" width="6.65" height="6.65" fill="#bca3d7"/>
<rect x="229.80" y="273.50" width="6.65" height="6.65" fill="#ac8dce"/>
<rect x="236.40" y="273.50" width="6.65" height="6.65" fill="#ffffff"/>
<rect x="243.00" y="273.50" width="6.65" height="6.65" fill="#e1d7ee"/>
<rect x="249.60" y="273.50" width="6.65" height="6.65" fill="#cdbbe2"/>
<rect x="256.20" y="273.50" width="6.65" height="6.65" fill="#ac8dce"/>
<rect x="262.80" y="273.50" width="6.65" height="6.65" fill="#bca3d7"/>
<rect x="203.40" y="280.10" width="6.65" height="6.65" fill="#bca3d7"/>
<rect x="210.00" y="280.10" width="6.65" height="6.65" fill="#bca3d7"/>
<rect x="216.60" y="280.10" width="6.65" height="6.65" fill="#ac8dce"/>
<rect x="223.20" y="280.10" width="6.65" height="6.65" fill="#e1d7ee"/>
<rect x="229.80" y="280.10" width="6.65" height="6.65" fill="#9c7bc2"/>
<rect x="236.40" y="280.10" width="6.65" height="6.65" fill="#ffffff"/>
<rect x="243.00" y="280.10" width="6.65" height="6.65" fill="#feeebc"/>
<rect x="249.60" y="280.10" width="6.65" height="6.65" fill="#e1d7ee"/>
<rect x="256.20" y="280.10" width="6.65" height="6.65" fill="#bca3d7"/>
<rect x="262.80" y="280.10" width="6.65" height="6.65" fill="#bca3d7"/>
<rect x="124.20" y="286.70" width="6.65" height="6.65" fill="#582c8e"/>
<rect x="130.80" y="286.70" width="6.65" height="6.65" fill="#9c7bc2"/>
<rect x="137.40" y="286.70" width="6.65" height="6.65" fill="#bca3d7"/>
<rect x="144.00" y="286.70" width="6.65" height="6.65" fill="#bca3d7"/>
<rect x="150.60" y="286.70" width="6.65" height="6.65" fill="#cdbbe2"/>
<rect x="157.20" y="286.70" width="6.65" height="6.65" fill="#bca3d7"/>
<rect x="163.80" y="286.70" width="6.65" height="6.65" fill="#cdbbe2"/>
<rect x="170.40" y="286.70" width="6.65" height="6.65" fill="#ffffff"/>
<rect x="177.00" y="286.70" width="6.65" height="6.65" fill="#bca3d7"/>
<rect x="183.60" y="286.70" width="6.65" height="6.65" fill="#bca3d7"/>
<rect x="190.20" y="286.70" width="6.65" height="6.65" fill="#bca3d7"/>
<rect x="196.80" y="286.70" width="6.65" height="6.65" fill="#cdbbe2"/>
<rect x="130.80" y="293.30" width="6.65" height="6.65" fill="#582c8e"/>
<rect x="137.40" y="293.30" width="6.65" height="6.65" fill="#cdbbe2"/>
<rect x="144.00" y="293.30" width="6.65" height="6.65" fill="#e1d7ee"/>
<rect x="150.60" y="293.30" width="6.65" height="6.65" fill="#cdbbe2"/>
<rect x="157.20" y="293.30" width="6.65" height="6.65" fill="#cdbbe2"/>
<rect x="163.80" y="293.30" width="6.65" height="6.65" fill="#ffffff"/>
<rect x="170.40" y="293.30" width="6.65" height="6.65" fill="#fef6dd"/>
<rect x="177.00" y="293.30" width="6.65" height="6.65" fill="#ffffff"/>
<rect x="183.60" y="293.30" width="6.65" height="6.65" fill="#e1d7ee"/>
<rect x="190.20" y="293.30" width="6.65" height="6.65" fill="#e1d7ee"/>
<rect x="196.80" y="293.30" width="6.65" height="6.65" fill="#bca3d7"/>
<rect x="137.40" y="299.90" width="6.65" height="6.65" fill="#582c8e"/>
<rect x="144.00" y="299.90" width="6.65" height="6.65" fill="#7f5aac"/>
<rect x="150.60" y="299.90" width="6.65" height="6.65" fill="#7f5aac"/>
<rect x="157.20" y="299.90" width="6.65" height="6.65" fill="#7f5aac"/>
<rect x="163.80" y="299.90" width="6.65" height="6.65" fill="#7f5aac"/>
<rect x="170.40" y="299.90" width="6.65" height="6.65" fill="#8d6ab7"/>
<rect x="177.00" y="299.90" width="6.65" height="6.65" fill="#7f5aac"/>
<rect x="183.60" y="299.90" width="6.65" height="6.65" fill="#7f5aac"/>
<rect x="190.20" y="299.90" width="6.65" height="6.65" fill="#8d6ab7"/>
<rect x="196.80" y="299.90" width="6.65" height="6.65" fill="#bca3d7"/>
<rect x="144.00" y="306.50" width="6.65" height="6.65" fill="#582c8e"/>
<rect x="150.60" y="306.50" width="6.65" height="6.65" fill="#9c7bc2"/>
<rect x="157.20" y="306.50" width="6.65" height="6.65" fill="#9c7bc2"/>
<rect x="163.80" y="306.50" width="6.65" height="6.65" fill="#8d6ab7"/>
<rect x="170.40" y="306.50" width="6.65" height="6.65" fill="#8d6ab7"/>
<rect x="177.00" y="306.50" width="6.65" height="6.65" fill="#8d6ab7"/>
<rect x="183.60" y="306.50" width="6.65" height="6.65" fill="#9c7bc2"/>
<rect x="190.20" y="306.50" width="6.65" height="6.65" fill="#9c7bc2"/>
<rect x="196.80" y="306.50" width="6.65" height="6.65" fill="#cdbbe2"/>
<rect x="150.60" y="313.10" width="6.65" height="6.65" fill="#582c8e"/>
<rect x="157.20" y="313.10" width="6.65" height="6.65" fill="#6b429d"/>
<rect x="163.80" y="313.10" width="6.65" height="6.65" fill="#6b429d"/>
<rect x="170.40" y="313.10" width="6.65" height="6.65" fill="#6b429d"/>
<rect x="177.00" y="313.10" width="6.65" height="6.65" fill="#6b429d"/>
<rect x="183.60" y="313.10" width="6.65" height="6.65" fill="#6b429d"/>
<rect x="190.20" y="313.10" width="6.65" height="6.65" fill="#6b429d"/>
<rect x="196.80" y="313.10" width="6.65" height="6.65" fill="#e1d7ee"/>
<rect x="157.20" y="319.70" width="6.65" height="6.65" fill="#582c8e"/>
<rect x="163.80" y="319.70" width="6.65" height="6.65" fill="#6b429d"/>
<rect x="170.40" y="319.70" width="6.65" height="6.65" fill="#6b429d"/>
<rect x="177.00" y="319.70" width="6.65" height="6.65" fill="#6b429d"/>
<rect x="183.60" y="319.70" width="6.65" height="6.65" fill="#6b429d"/>
<rect x="190.20" y="319.70" width="6.65" height="6.65" fill="#6b429d"/>
<rect x="196.80" y="319.70" width="6.65" height="6.65" fill="#cdbbe2"/>
<rect x="163.80" y="326.30" width="6.65" height="6.65" fill="#582c8e"/>
<rect x="170.40" y="326.30" width="6.65" height="6.65" fill="#653b98"/>
<rect x="177.00" y="326.30" width="6.65" height="6.65" fill="#6b429d"/>
<rect x="183.60" y="326.30" width="6.65" height="6.65" fill="#6b429d"/>
<rect x="190.20" y="326.30" width="6.65" height="6.65" fill="#6b429d"/>
<rect x="196.80" y="326.30" width="6.65" height="6.65" fill="#cdbbe2"/>
<rect x="170.40" y="332.90" width="6.65" height="6.65" fill="#582c8e"/>
<rect x="177.00" y="332.90" width="6.65" height="6.65" fill="#6b429d"/>
<rect x="183.60" y="332.90" width="6.65" height="6.65" fill="#6b429d"/>
<rect x="190.20" y="332.90" width="6.65" height="6.65" fill="#6b429d"/>
<rect x="196.80" y="332.90" width="6.65" height="6.65" fill="#e1d7ee"/>
<rect x="177.00" y="339.50" width="6.65" height="6.65" fill="#582c8e"/>
<rect x="183.60" y="339.50" width="6.65" height="6.65" fill="#653b98"/>
<rect x="190.20" y="339.50" width="6.65" height="6.65" fill="#653b98"/>
<rect x="196.80" y="339.50" width="6.65" height="6.65" fill="#e1d7ee"/>
<rect x="183.60" y="346.10" width="6.65" height="6.65" fill="#582c8e"/>
<rect x="190.20" y="346.10" width="6.65" height="6.65" fill="#653b98"/>
<rect x="196.80" y="346.10" width="6.65" height="6.65" fill="#cdbbe2"/>
<rect x="190.20" y="352.70" width="6.65" height="6.65" fill="#582c8e"/>
<rect x="196.80" y="352.70" width="6.65" height="6.65" fill="#cdbbe2"/>
<rect x="196.80" y="359.30" width="6.65" height="6.65" fill="#582c8e"/>
<rect x="203.40" y="286.70" width="6.65" height="6.65" fill="#bca3d7"/>
<rect x="210.00" y="286.70" width="6.65" height="6.65" fill="#bca3d7"/>
<rect x="216.60" y="286.70" width="6.65" height="6.65" fill="#9c7bc2"/>
<rect x="223.20" y="286.70" width="6.65" height="6.65" fill="#bca3d7"/>
<rect x="229.80" y="286.70" width="6.65" height="6.65" fill="#8d6ab7"/>
<rect x="236.40" y="286.70" width="6.65" height="6.65" fill="#cdbbe2"/>
<rect x="243.00" y="286.70" width="6.65" height="6.65" fill="#ffffff"/>
<rect x="249.60" y="286.70" width="6.65" height="6.65" fill="#bca3d7"/>
<rect x="256.20" y="286.70" width="6.65" height="6.65" fill="#bca3d7"/>
<rect x="262.80" y="286.70" width="6.65" height="6.65" fill="#ac8dce"/>
<rect x="203.40" y="293.30" width="6.65" height="6.65" fill="#8d6ab7"/>
<rect x="210.00" y="293.30" width="6.65" height="6.65" fill="#8d6ab7"/>
<rect x="216.60" y="293.30" width="6.65" height="6.65" fill="#9c7bc2"/>
<rect x="223.20" y="293.30" width="6.65" height="6.65" fill="#bca3d7"/>
<rect x="229.80" y="293.30" width="6.65" height="6.65" fill="#7f5aac"/>
<rect x="236.40" y="293.30" width="6.65" height="6.65" fill="#e1d7ee"/>
<rect x="243.00" y="293.30" width="6.65" height="6.65" fill="#e1d7ee"/>
<rect x="249.60" y="293.30" width="6.65" height="6.65" fill="#cdbbe2"/>
<rect x="256.20" y="293.30" width="6.65" height="6.65" fill="#cdbbe2"/>
<rect x="262.80" y="293.30" width="6.65" height="6.65" fill="#ac8dce"/>
<rect x="203.40" y="299.90" width="6.65" height="6.65" fill="#bca3d7"/>
<rect x="210.00" y="299.90" width="6.65" height="6.65" fill="#bca3d7"/>
<rect x="216.60" y="299.90" width="6.65" height="6.65" fill="#ac8dce"/>
<rect x="223.20" y="299.90" width="6.65" height="6.65" fill="#8d6ab7"/>
<rect x="229.80" y="299.90" width="6.65" height="6.65" fill="#9c7bc2"/>
<rect x="236.40" y="299.90" width="6.65" height="6.65" fill="#ac8dce"/>
<rect x="243.00" y="299.90" width="6.65" height="6.65" fill="#9c7bc2"/>
<rect x="249.60" y="299.90" width="6.65" height="6.65" fill="#7f5aac"/>
<rect x="256.20" y="299.90" width="6.65" height="6.65" fill="#8d6ab7"/>
<rect x="262.80" y="299.90" width="6.65" height="6.65" fill="#bca3d7"/>
<rect x="203.40" y="306.50" width="6.65" height="6.65" fill="#cdbbe2"/>
<rect x="210.00" y="306.50" width="6.65" height="6.65" fill="#bca3d7"/>
<rect x="216.60" y="306.50" width="6.65" height="6.65" fill="#9c7bc2"/>
<rect x="223.20" y="306.50" width="6.65" height="6.65" fill="#8d6ab7"/>
<rect x="229.80" y="306.50" width="6.65" height="6.65" fill="#ac8dce"/>
<rect x="236.40" y="306.50" width="6.65" height="6.65" fill="#bca3d7"/>
<rect x="243.00" y="306.50" width="6.65" height="6.65" fill="#ac8dce"/>
<rect x="249.60" y="306.50" width="6.65" height="6.65" fill="#8d6ab7"/>
<rect x="256.20" y="306.50" width="6.65" height="6.65" fill="#ac8dce"/>
<rect x="262.80" y="306.50" width="6.65" height="6.65" fill="#ac8dce"/>
<rect x="203.40" y="313.10" width="6.65" height="6.65" fill="#cdbbe2"/>
<rect x="210.00" y="313.10" width="6.65" height="6.65" fill="#cdbbe2"/>
<rect x="216.60" y="313.10" width="6.65" height="6.65" fill="#bca3d7"/>
<rect x="223.20" y="313.10" width="6.65" height="6.65" fill="#8d6ab7"/>
<rect x="229.80" y="313.10" width="6.65" height="6.65" fill="#ac8dce"/>
<rect x="236.40" y="313.10" width="6.65" height="6.65" fill="#ac8dce"/>
<rect x="243.00" y="313.10" width="6.65" height="6.65" fill="#8d6ab7"/>
<rect x="249.60" y="313.10" width="6.65" height="6.65" fill="#8d6ab7"/>
<rect x="256.20" y="313.10" width="6.65" height="6.65" fill="#9c7bc2"/>
<rect x="262.80" y="313.10" width="6.65" height="6.65" fill="#9c7bc2"/>
<rect x="203.40" y="319.70" width="6.65" height="6.65" fill="#cdbbe2"/>
<rect x="210.00" y="319.70" width="6.65" height="6.65" fill="#bca3d7"/>
<rect x="216.60" y="319.70" width="6.65" height="6.65" fill="#e1d7ee"/>
<rect x="223.20" y="319.70" width="6.65" height="6.65" fill="#8d6ab7"/>
<rect x="229.80" y="319.70" width="6.65" height="6.65" fill="#ac8dce"/>
<rect x="236.40" y="319.70" width="6.65" height="6.65" fill="#9c7bc2"/>
<rect x="243.00" y="319.70" width="6.65" height="6.65" fill="#8d6ab7"/>
<rect x="249.60" y="319.70" width="6.65" height="6.65" fill="#ac8dce"/>
<rect x="256.20" y="319.70" width="6.65" height="6.65" fill="#ac8dce"/>
<rect x="262.80" y="319.70" width="6.65" height="6.65" fill="#e1d7ee"/>
<rect x="203.40" y="326.30" width="6.65" height="6.65" fill="#cdbbe2"/>
<rect x="210.00" y="326.30" width="6.65" height="6.65" fill="#bca3d7"/>
<rect x="216.60" y="326.30" width="6.65" height="6.65" fill="#cdbbe2"/>
<rect x="223.20" y="326.30" width="6.65" height="6.65" fill="#8d6ab7"/>
<rect x="229.80" y="326.30" width="6.65" height="6.65" fill="#ac8dce"/>
<rect x="236.40" y="326.30" width="6.65" height="6.65" fill="#8d6ab7"/>
<rect x="243.00" y="326.30" width="6.65" height="6.65" fill="#8d6ab7"/>
<rect x="249.60" y="326.30" width="6.65" height="6.65" fill="#ac8dce"/>
<rect x="256.20" y="326.30" width="6.65" height="6.65" fill="#9c7bc2"/>
<rect x="262.80" y="326.30" width="6.65" height="6.65" fill="#e1d7ee"/>
<rect x="203.40" y="332.90" width="6.65" height="6.65" fill="#ffffff"/>
<rect x="210.00" y="332.90" width="6.65" height="6.65" fill="#ffffff"/>
<rect x="216.60" y="332.90" width="6.65" height="6.65" fill="#ffffff"/>
<rect x="223.20" y="332.90" width="6.65" height="6.65" fill="#9c7bc2"/>
<rect x="229.80" y="332.90" width="6.65" height="6.65" fill="#bca3d7"/>
<rect x="236.40" y="332.90" width="6.65" height="6.65" fill="#cdbbe2"/>
<rect x="243.00" y="332.90" width="6.65" height="6.65" fill="#ac8dce"/>
<rect x="249.60" y="332.90" width="6.65" height="6.65" fill="#ac8dce"/>
<rect x="256.20" y="332.90" width="6.65" height="6.65" fill="#bca3d7"/>
<rect x="262.80" y="332.90" width="6.65" height="6.65" fill="#e1d7ee"/>
<rect x="203.40" y="339.50" width="6.65" height="6.65" fill="#bca3d7"/>
<rect x="210.00" y="339.50" width="6.65" height="6.65" fill="#bca3d7"/>
<rect x="216.60" y="339.50" width="6.65" height="6.65" fill="#e1d7ee"/>
<rect x="223.20" y="339.50" width="6.65" height="6.65" fill="#7f5aac"/>
<rect x="229.80" y="339.50" width="6.65" height="6.65" fill="#ac8dce"/>
<rect x="236.40" y="339.50" width="6.65" height="6.65" fill="#ac8dce"/>
<rect x="243.00" y="339.50" width="6.65" height="6.65" fill="#7f5aac"/>
<rect x="249.60" y="339.50" width="6.65" height="6.65" fill="#7f5aac"/>
<rect x="256.20" y="339.50" width="6.65" height="6.65" fill="#ac8dce"/>
<rect x="262.80" y="339.50" width="6.65" height="6.65" fill="#cdbbe2"/>
<rect x="203.40" y="346.10" width="6.65" height="6.65" fill="#cdbbe2"/>
<rect x="210.00" y="346.10" width="6.65" height="6.65" fill="#cdbbe2"/>
<rect x="216.60" y="346.10" width="6.65" height="6.65" fill="#ffffff"/>
<rect x="223.20" y="346.10" width="6.65" height="6.65" fill="#7f5aac"/>
<rect x="229.80" y="346.10" width="6.65" height="6.65" fill="#ac8dce"/>
<rect x="236.40" y="346.10" width="6.65" height="6.65" fill="#ac8dce"/>
<rect x="243.00" y="346.10" width="6.65" height="6.65" fill="#7f5aac"/>
<rect x="249.60" y="346.10" width="6.65" height="6.65" fill="#8d6ab7"/>
<rect x="256.20" y="346.10" width="6.65" height="6.65" fill="#9c7bc2"/>
<rect x="262.80" y="346.10" width="6.65" height="6.65" fill="#e1d7ee"/>
<rect x="203.40" y="352.70" width="6.65" height="6.65" fill="#cdbbe2"/>
<rect x="210.00" y="352.70" width="6.65" height="6.65" fill="#cdbbe2"/>
<rect x="216.60" y="352.70" width="6.65" height="6.65" fill="#ffffff"/>
<rect x="223.20" y="352.70" width="6.65" height="6.65" fill="#8d6ab7"/>
<rect x="229.80" y="352.70" width="6.65" height="6.65" fill="#bca3d7"/>
<rect x="236.40" y="352.70" width="6.65" height="6.65" fill="#ac8dce"/>
<rect x="243.00" y="352.70" width="6.65" height="6.65" fill="#8d6ab7"/>
<rect x="249.60" y="352.70" width="6.65" height="6.65" fill="#9c7bc2"/>
<rect x="256.20" y="352.70" width="6.65" height="6.65" fill="#bca3d7"/>
<rect x="262.80" y="352.70" width="6.65" height="6.65" fill="#ffffff"/>
<rect x="203.40" y="359.30" width="6.65" height="6.65" fill="#8d6ab7"/>
<rect x="210.00" y="359.30" width="6.65" height="6.65" fill="#8d6ab7"/>
<rect x="216.60" y="359.30" width="6.65" height="6.65" fill="#8d6ab7"/>
<rect x="223.20" y="359.30" width="6.65" height="6.65" fill="#bca3d7"/>
<rect x="229.80" y="359.30" width="6.65" height="6.65" fill="#ac8dce"/>
<rect x="236.40" y="359.30" width="6.65" height="6.65" fill="#e1d7ee"/>
<rect x="243.00" y="359.30" width="6.65" height="6.65" fill="#bca3d7"/>
<rect x="249.60" y="359.30" width="6.65" height="6.65" fill="#ac8dce"/>
<rect x="256.20" y="359.30" width="6.65" height="6.65" fill="#bca3d7"/>
<rect x="262.80" y="359.30" width="6.65" height="6.65" fill="#bca3d7"/>
<rect x="203.40" y="365.90" width="6.65" height="6.65" fill="#582c8e"/>
<rect x="210.00" y="365.90" width="6.65" height="6.65" fill="#724aa2"/>
<rect x="216.60" y="365.90" width="6.65" height="6.65" fill="#724aa2"/>
<rect x="223.20" y="365.90" width="6.65" height="6.65" fill="#9c7bc2"/>
<rect x="229.80" y="365.90" width="6.65" height="6.65" fill="#8d6ab7"/>
<rect x="236.40" y="365.90" width="6.65" height="6.65" fill="#cdbbe2"/>
<rect x="243.00" y="365.90" width="6.65" height="6.65" fill="#9c7bc2"/>
<rect x="249.60" y="365.90" width="6.65" height="6.65" fill="#9c7bc2"/>
<rect x="256.20" y="365.90" width="6.65" height="6.65" fill="#8d6ab7"/>
<rect x="262.80" y="365.90" width="6.65" height="6.65" fill="#9c7bc2"/>
<rect x="210.00" y="372.50" width="6.65" height="6.65" fill="#582c8e"/>
<rect x="216.60" y="372.50" width="6.65" height="6.65" fill="#724aa2"/>
<rect x="223.20" y="372.50" width="6.65" height="6.65" fill="#8d6ab7"/>
<rect x="229.80" y="372.50" width="6.65" height="6.65" fill="#8d6ab7"/>
<rect x="236.40" y="372.50" width="6.65" height="6.65" fill="#bca3d7"/>
<rect x="243.00" y="372.50" width="6.65" height="6.65" fill="#9c7bc2"/>
<rect x="249.60" y="372.50" width="6.65" height="6.65" fill="#8d6ab7"/>
<rect x="256.20" y="372.50" width="6.65" height="6.65" fill="#8d6ab7"/>
<rect x="262.80" y="372.50" width="6.65" height="6.65" fill="#9c7bc2"/>
<rect x="216.60" y="379.10" width="6.65" height="6.65" fill="#582c8e"/>
<rect x="223.20" y="379.10" width="6.65" height="6.65" fill="#9c7bc2"/>
<rect x="229.80" y="379.10" width="6.65" height="6.65" fill="#8d6ab7"/>
<rect x="236.40" y="379.10" width="6.65" height="6.65" fill="#bca3d7"/>
<rect x="243.00" y="379.10" width="6.65" height="6.65" fill="#bca3d7"/>
<rect x="249.60" y="379.10" width="6.65" height="6.65" fill="#8d6ab7"/>
<rect x="256.20" y="379.10" width="6.65" height="6.65" fill="#9c7bc2"/>
<rect x="262.80" y="379.10" width="6.65" height="6.65" fill="#8d6ab7"/>
<rect x="223.20" y="385.70" width="6.65" height="6.65" fill="#582c8e"/>
<rect x="229.80" y="385.70" width="6.65" height="6.65" fill="#8d6ab7"/>
<rect x="236.40" y="385.70" width="6.65" height="6.65" fill="#ac8dce"/>
<rect x="243.00" y="385.70" width="6.65" height="6.65" fill="#9c7bc2"/>
<rect x="249.60" y="385.70" width="6.65" height="6.65" fill="#8d6ab7"/>
<rect x="256.20" y="385.70" width="6.65" height="6.65" fill="#ac8dce"/>
<rect x="262.80" y="385.70" width="6.65" height="6.65" fill="#bca3d7"/>
<rect x="229.80" y="392.30" width="6.65" height="6.65" fill="#582c8e"/>
<rect x="236.40" y="392.30" width="6.65" height="6.65" fill="#bca3d7"/>
<rect x="243.00" y="392.30" width="6.65" height="6.65" fill="#ac8dce"/>
<rect x="249.60" y="392.30" width="6.65" height="6.65" fill="#9c7bc2"/>
<rect x="256.20" y="392.30" width="6.65" height="6.65" fill="#8d6ab7"/>
<rect x="262.80" y="392.30" width="6.65" height="6.65" fill="#8d6ab7"/>
<rect x="236.40" y="398.90" width="6.65" height="6.65" fill="#582c8e"/>
<rect x="243.00" y="398.90" width="6.65" height="6.65" fill="#ac8dce"/>
<rect x="249.60" y="398.90" width="6.65" height="6.65" fill="#bca3d7"/>
<rect x="256.20" y="398.90" width="6.65" height="6.65" fill="#bca3d7"/>
<rect x="262.80" y="398.90" width="6.65" height="6.65" fill="#bca3d7"/>
<rect x="243.00" y="405.50" width="6.65" height="6.65" fill="#582c8e"/>
<rect x="249.60" y="405.50" width="6.65" height="6.65" fill="#724aa2"/>
<rect x="256.20" y="405.50" width="6.65" height="6.65" fill="#7f5aac"/>
<rect x="262.80" y="405.50" width="6.65" height="6.65" fill="#bca3d7"/>
<rect x="249.60" y="412.10" width="6.65" height="6.65" fill="#582c8e"/>
<rect x="256.20" y="412.10" width="6.65" height="6.65" fill="#7f5aac"/>
<rect x="262.80" y="412.10" width="6.65" height="6.65" fill="#8d6ab7"/>
<rect x="256.20" y="418.70" width="6.65" height="6.65" fill="#582c8e"/>
<rect x="262.80" y="418.70" width="6.65" height="6.65" fill="#7f5aac"/>
<rect x="262.80" y="425.30" width="6.65" height="6.65" fill="#582c8e"/>
</g>
<path d="M150.60 313.50 H197.30 V358.70" stroke="#ed1c24" stroke-width="2.3" fill="none" stroke-dasharray="4 2"/>
<text x="51.40" y="206.00" font-size="6.5" font-style="italic" transform="rotate(-90 51.40 206.00)">DUSP1</text>
<text x="58.00" y="206.00" font-size="6.5" font-style="italic" transform="rotate(-90 58.00 206.00)">ANGPTL4</text>
<text x="64.60" y="206.00" font-size="6.5" font-style="italic" transform="rotate(-90 64.60 206.00)">PC</text>
<text x="71.20" y="206.00" font-size="6.5" font-style="italic" transform="rotate(-90 71.20 206.00)">CCND1</text>
<text x="77.80" y="206.00" font-size="6.5" font-style="italic" transform="rotate(-90 77.80 206.00)">TNF</text>
<text x="84.40" y="206.00" font-size="6.5" font-style="italic" transform="rotate(-90 84.40 206.00)">MMP9</text>
<text x="91.00" y="206.00" font-size="6.5" font-style="italic" transform="rotate(-90 91.00 206.00)">CCL7</text>
<text x="97.60" y="206.00" font-size="6.5" font-style="italic" transform="rotate(-90 97.60 206.00)">INHBA</text>
<text x="104.20" y="206.00" font-size="6.5" font-style="italic" transform="rotate(-90 104.20 206.00)">CCL2</text>
<text x="110.80" y="206.00" font-size="6.5" font-style="italic" transform="rotate(-90 110.80 206.00)">IL1B</text>
<text x="117.40" y="206.00" font-size="6.5" font-style="italic" transform="rotate(-90 117.40 206.00)">ARG1</text>
<text x="124.00" y="206.00" font-size="6.5" font-style="italic" transform="rotate(-90 124.00 206.00)">CXCL12</text>
<text x="130.60" y="206.00" font-size="6.5" font-style="italic" transform="rotate(-90 130.60 206.00)">EDN1</text>
<text x="137.20" y="206.00" font-size="6.5" font-style="italic" transform="rotate(-90 137.20 206.00)">FLT1</text>
<text x="143.80" y="206.00" font-size="6.5" font-style="italic" transform="rotate(-90 143.80 206.00)">IFIT2</text>
<text x="150.40" y="206.00" font-size="6.5" font-style="italic" transform="rotate(-90 150.40 206.00)">TLR5</text>
<text x="157.00" y="206.00" font-size="6.5" font-weight="bold" font-style="italic" transform="rotate(-90 157.00 206.00)">IFI35</text>
<text x="163.60" y="206.00" font-size="6.5" font-weight="bold" font-style="italic" transform="rotate(-90 163.60 206.00)">RSAD2</text>
<text x="170.20" y="206.00" font-size="6.5" font-weight="bold" font-style="italic" transform="rotate(-90 170.20 206.00)">OAS1</text>
<text x="176.80" y="206.00" font-size="6.5" font-weight="bold" font-style="italic" transform="rotate(-90 176.80 206.00)">HERC6</text>
<text x="183.40" y="206.00" font-size="6.5" font-weight="bold" font-style="italic" transform="rotate(-90 183.40 206.00)">IFIH1</text>
<text x="190.00" y="206.00" font-size="6.5" font-weight="bold" font-style="italic" transform="rotate(-90 190.00 206.00)">MX1</text>
<text x="196.60" y="206.00" font-size="6.5" font-weight="bold" font-style="italic" transform="rotate(-90 196.60 206.00)">IFIT1</text>
<text x="203.20" y="206.00" font-size="6.5" font-style="italic" transform="rotate(-90 203.20 206.00)">RASGRF1</text>
<text x="209.80" y="206.00" font-size="6.5" font-style="italic" transform="rotate(-90 209.80 206.00)">CXCR4</text>
<text x="216.40" y="206.00" font-size="6.5" font-style="italic" transform="rotate(-90 216.40 206.00)">HAVCR2</text>
<text x="223.00" y="206.00" font-size="6.5" font-style="italic" transform="rotate(-90 223.00 206.00)">CD4</text>
<text x="229.60" y="206.00" font-size="6.5" font-style="italic" transform="rotate(-90 229.60 206.00)">IRF7</text>
<text x="236.20" y="206.00" font-size="6.5" font-style="italic" transform="rotate(-90 236.20 206.00)">CD69</text>
<text x="242.80" y="206.00" font-size="6.5" font-style="italic" transform="rotate(-90 242.80 206.00)">TNFSF10</text>
<text x="249.40" y="206.00" font-size="6.5" font-style="italic" transform="rotate(-90 249.40 206.00)">CXCL10</text>
<text x="256.00" y="206.00" font-size="6.5" font-style="italic" transform="rotate(-90 256.00 206.00)">GBP4</text>
<text x="262.60" y="206.00" font-size="6.5" font-style="italic" transform="rotate(-90 262.60 206.00)">IFI16</text>
<text x="269.20" y="206.00" font-size="6.5" font-style="italic" transform="rotate(-90 269.20 206.00)">GBP2</text>
<text x="42.00" y="214.30" font-size="6.5" text-anchor="end" font-style="italic">DUSP1</text>
<text x="48.60" y="220.90" font-size="6.5" text-anchor="end" font-style="italic">ANGPTL4</text>
<text x="55.20" y="227.50" font-size="6.5" text-anchor="end" font-style="italic">PC</text>
<text x="61.80" y="234.10" font-size="6.5" text-anchor="end" font-style="italic">CCND1</text>
<text x="68.40" y="240.70" font-size="6.5" text-anchor="end" font-style="italic">TNF</text>
<text x="75.00" y="247.30" font-size="6.5" text-anchor="end" font-style="italic">MMP9</text>
<text x="81.60" y="253.90" font-size="6.5" text-anchor="end" font-style="italic">CCL7</text>
<text x="88.20" y="260.50" font-size="6.5" text-anchor="end" font-style="italic">INHBA</text>
<text x="94.80" y="267.10" font-size="6.5" text-anchor="end" font-style="italic">CCL2</text>
<text x="101.40" y="273.70" font-size="6.5" text-anchor="end" font-style="italic">IL1B</text>
<text x="108.00" y="280.30" font-size="6.5" text-anchor="end" font-style="italic">ARG1</text>
<text x="114.60" y="286.90" font-size="6.5" text-anchor="end" font-style="italic">CXCL12</text>
<text x="121.20" y="293.50" font-size="6.5" text-anchor="end" font-style="italic">EDN1</text>
<text x="127.80" y="300.10" font-size="6.5" text-anchor="end" font-style="italic">FLT1</text>
<text x="134.40" y="306.70" font-size="6.5" text-anchor="end" font-style="italic">IFIT2</text>
<text x="141.00" y="313.30" font-size="6.5" text-anchor="end" font-style="italic">TLR5</text>
<text x="147.60" y="319.90" font-size="6.5" text-anchor="end" font-weight="bold" font-style="italic">IFI35</text>
<text x="154.20" y="326.50" font-size="6.5" text-anchor="end" font-weight="bold" font-style="italic">RSAD2</text>
<text x="160.80" y="333.10" font-size="6.5" text-anchor="end" font-weight="bold" font-style="italic">OAS1</text>
<text x="167.40" y="339.70" font-size="6.5" text-anchor="end" font-weight="bold" font-style="italic">HERC6</text>
<text x="174.00" y="346.30" font-size="6.5" text-anchor="end" font-weight="bold" font-style="italic">IFIH1</text>
<text x="180.60" y="352.90" font-size="6.5" text-anchor="end" font-weight="bold" font-style="italic">MX1</text>
<text x="187.20" y="359.50" font-size="6.5" text-anchor="end" font-weight="bold" font-style="italic">IFIT1</text>
<text x="193.80" y="366.10" font-size="6.5" text-anchor="end" font-style="italic">RASGRF1</text>
<text x="200.40" y="372.70" font-size="6.5" text-anchor="end" font-style="italic">CXCR4</text>
<text x="207.00" y="379.30" font-size="6.5" text-anchor="end" font-style="italic">HAVCR2</text>
<text x="213.60" y="385.90" font-size="6.5" text-anchor="end" font-style="italic">CD4</text>
<text x="220.20" y="392.50" font-size="6.5" text-anchor="end" font-style="italic">IRF7</text>
<text x="226.80" y="399.10" font-size="6.5" text-anchor="end" font-style="italic">CD69</text>
<text x="233.40" y="405.70" font-size="6.5" text-anchor="end" font-style="italic">TNFSF10</text>
<text x="240.00" y="412.30" font-size="6.5" text-anchor="end" font-style="italic">CXCL10</text>
<text x="246.60" y="418.90" font-size="6.5" text-anchor="end" font-style="italic">GBP4</text>
<text x="253.20" y="425.50" font-size="6.5" text-anchor="end" font-style="italic">IFI16</text>
<text x="259.80" y="432.10" font-size="6.5" text-anchor="end" font-style="italic">GBP2</text>
<defs><linearGradient id="sp" x1="0" x2="0" y1="0" y2="1"><stop offset="0" stop-color="#5a2c90"/><stop offset="0.25" stop-color="#9d7cc0"/><stop offset="0.5" stop-color="#ffffff"/><stop offset="0.56" stop-color="#fdf0c6"/><stop offset="0.63" stop-color="#fbdc8a"/><stop offset="0.72" stop-color="#f8c858"/><stop offset="0.85" stop-color="#f4b231"/><stop offset="1" stop-color="#f0a31b"/></linearGradient></defs>
<rect x="278.50" y="207.80" width="6.20" height="145.60" fill="url(#sp)" stroke="#9a8f9a" stroke-width="0.35"/>
<line x1="284.60" y1="207.80" x2="286.00" y2="207.80" stroke="#555" stroke-width="0.5"/>
<text x="287.20" y="210.30" font-size="7.0">1</text>
<line x1="284.60" y1="222.36" x2="286.00" y2="222.36" stroke="#555" stroke-width="0.5"/>
<text x="287.20" y="224.86" font-size="7.0">0.8</text>
<line x1="284.60" y1="236.92" x2="286.00" y2="236.92" stroke="#555" stroke-width="0.5"/>
<text x="287.20" y="239.42" font-size="7.0">0.6</text>
<line x1="284.60" y1="251.48" x2="286.00" y2="251.48" stroke="#555" stroke-width="0.5"/>
<text x="287.20" y="253.98" font-size="7.0">0.4</text>
<line x1="284.60" y1="266.04" x2="286.00" y2="266.04" stroke="#555" stroke-width="0.5"/>
<text x="287.20" y="268.54" font-size="7.0">0.2</text>
<line x1="284.60" y1="280.60" x2="286.00" y2="280.60" stroke="#555" stroke-width="0.5"/>
<text x="287.20" y="283.10" font-size="7.0">0</text>
<line x1="284.60" y1="295.16" x2="286.00" y2="295.16" stroke="#555" stroke-width="0.5"/>
<text x="287.20" y="297.66" font-size="7.0">−0.2</text>
<line x1="284.60" y1="309.72" x2="286.00" y2="309.72" stroke="#555" stroke-width="0.5"/>
<text x="287.20" y="312.22" font-size="7.0">−0.4</text>
<line x1="284.60" y1="324.28" x2="286.00" y2="324.28" stroke="#555" stroke-width="0.5"/>
<text x="287.20" y="326.78" font-size="7.0">−0.6</text>
<line x1="284.60" y1="338.84" x2="286.00" y2="338.84" stroke="#555" stroke-width="0.5"/>
<text x="287.20" y="341.34" font-size="7.0">−0.8</text>
<line x1="284.60" y1="353.40" x2="286.00" y2="353.40" stroke="#555" stroke-width="0.5"/>
<text x="287.20" y="355.90" font-size="7.0">−1</text>
<text x="277.40" y="194.20" font-size="7.5">Spearman</text>
<text x="277.40" y="201.80" font-size="7.5">correlation</text>
</g>
<g id="panelC">
<text x="327.00" y="172.70" font-size="11.3" font-weight="bold">C</text>
<text x="425.00" y="169.40" font-size="8.5" text-anchor="middle">Differentially expressed genes</text>
<text x="425.00" y="179.80" font-size="8.5" text-anchor="middle">Nonresponders vs. responders</text>
<line x1="412.60" y1="204.80" x2="412.60" y2="383.00" stroke="#7f7f7f" stroke-width="1.3" stroke-dasharray="7.7 3.8" stroke-dashoffset="9.5"/>
<line x1="477.60" y1="204.80" x2="477.60" y2="383.00" stroke="#7f7f7f" stroke-width="1.3" stroke-dasharray="7.7 3.8" stroke-dashoffset="9.5"/>
<line x1="366.50" y1="278.80" x2="483.50" y2="278.80" stroke="#7f7f7f" stroke-width="1.3" stroke-dasharray="7.7 3.8"/>
<line x1="445.40" y1="204.80" x2="445.40" y2="383.00" stroke="#1a1a1a" stroke-width="1.1"/>
<line x1="366.70" y1="204.80" x2="366.70" y2="383.60" stroke="#1a1a1a" stroke-width="1.2"/>
<line x1="366.50" y1="383.00" x2="483.50" y2="383.00" stroke="#1a1a1a" stroke-width="1.2"/>
<line x1="363.90" y1="230.45" x2="366.50" y2="230.45" stroke="#1a1a1a" stroke-width="0.9"/>
<text x="362.30" y="233.25" font-size="7.5" text-anchor="end">1.5</text>
<line x1="363.90" y1="278.80" x2="366.50" y2="278.80" stroke="#1a1a1a" stroke-width="0.9"/>
<text x="362.30" y="281.60" font-size="7.5" text-anchor="end">1.0</text>
<line x1="363.90" y1="327.15" x2="366.50" y2="327.15" stroke="#1a1a1a" stroke-width="0.9"/>
<text x="362.30" y="329.95" font-size="7.5" text-anchor="end">0.5</text>
<line x1="363.90" y1="375.50" x2="366.50" y2="375.50" stroke="#1a1a1a" stroke-width="0.9"/>
<text x="362.30" y="378.30" font-size="7.5" text-anchor="end">0.0</text>
<line x1="380.30" y1="383.00" x2="380.30" y2="385.70" stroke="#1a1a1a" stroke-width="0.9"/>
<text x="379.40" y="394.20" font-size="7.5" text-anchor="middle">−1.0</text>
<line x1="412.80" y1="383.00" x2="412.80" y2="385.70" stroke="#1a1a1a" stroke-width="0.9"/>
<text x="411.90" y="394.20" font-size="7.5" text-anchor="middle">−0.5</text>
<line x1="445.30" y1="383.00" x2="445.30" y2="385.70" stroke="#1a1a1a" stroke-width="0.9"/>
<text x="445.10" y="394.20" font-size="7.5" text-anchor="middle">0.0</text>
<line x1="477.80" y1="383.00" x2="477.80" y2="385.70" stroke="#1a1a1a" stroke-width="0.9"/>
<text x="477.60" y="394.20" font-size="7.5" text-anchor="middle">0.5</text>
<text x="425.70" y="407.40" font-size="8.5" text-anchor="middle">Log fold change</text>
<text x="343.00" y="292.00" font-size="8.5" text-anchor="middle" transform="rotate(-90 343.00 292.00)">−Log<tspan font-size="6" dy="1.6">10</tspan><tspan dy="-1.6"> </tspan><tspan font-style="italic">P</tspan> value</text>
<text x="467.00" y="274.60" font-size="8.0" fill="#8a8a8a"><tspan font-style="italic">P</tspan> = 0.1</text>
<line x1="386.60" y1="212.80" x2="404.00" y2="211.60" stroke="#1a5a9c" stroke-width="0.9"/>
<line x1="406.70" y1="260.00" x2="412.00" y2="268.60" stroke="#1a5a9c" stroke-width="0.9"/>
<circle cx="386.60" cy="212.80" r="2.7" fill="#1a5a9c"/>
<circle cx="385.20" cy="225.30" r="2.7" fill="#1a5a9c"/>
<circle cx="393.20" cy="237.70" r="2.7" fill="#1a5a9c"/>
<circle cx="376.00" cy="240.20" r="2.7" fill="#1a5a9c"/>
<circle cx="396.50" cy="246.10" r="2.7" fill="#1a5a9c"/>
<circle cx="428.60" cy="254.90" r="2.7" fill="#1a5a9c"/>
<circle cx="403.40" cy="252.30" r="2.7" fill="#1a5a9c"/>
<circle cx="406.70" cy="260.00" r="2.7" fill="#1a5a9c"/>
<circle cx="381.50" cy="302.60" r="2.7" fill="#1a5a9c"/>
<circle cx="402.70" cy="311.20" r="2.7" fill="#1a5a9c"/>
<circle cx="415.10" cy="321.40" r="2.7" fill="#1a5a9c"/>
<circle cx="420.20" cy="323.20" r="2.7" fill="#1a5a9c"/>
<circle cx="372.00" cy="358.70" r="2.7" fill="#1a5a9c"/>
<circle cx="423.90" cy="348.80" r="2.7" fill="#1a5a9c"/>
<circle cx="428.30" cy="370.70" r="2.7" fill="#1a5a9c"/>
<circle cx="449.50" cy="350.30" r="2.7" fill="#1a5a9c"/>
<circle cx="453.50" cy="368.60" r="2.7" fill="#1a5a9c"/>
<circle cx="469.20" cy="340.80" r="2.7" fill="#1a5a9c"/>
<circle cx="467.70" cy="337.50" r="2.7" fill="#c8102e"/>
<circle cx="445.10" cy="353.20" r="2.7" fill="#c8102e"/>
<circle cx="458.60" cy="369.30" r="2.7" fill="#c8102e"/>
<circle cx="478.30" cy="297.80" r="2.7" fill="#0a0a0a"/>
<circle cx="455.00" cy="315.20" r="2.7" fill="#0a0a0a"/>
<circle cx="456.80" cy="318.90" r="2.7" fill="#0a0a0a"/>
<circle cx="429.40" cy="339.00" r="2.7" fill="#0a0a0a"/>
<circle cx="455.70" cy="345.50" r="2.7" fill="#0a0a0a"/>
<circle cx="433.80" cy="354.70" r="2.7" fill="#0a0a0a"/>
<circle cx="438.50" cy="365.30" r="2.7" fill="#0a0a0a"/>
<circle cx="447.30" cy="362.70" r="2.7" fill="#0a0a0a"/>
<circle cx="446.90" cy="370.40" r="2.7" fill="#0a0a0a"/>
<circle cx="432.70" cy="374.80" r="2.7" fill="#0a0a0a"/>
<circle cx="472.10" cy="357.20" r="2.7" fill="#0a0a0a"/>
<text x="404.90" y="214.50" font-size="8.7" font-style="italic" fill="#1a5a9c">MX1</text>
<text x="370.20" y="222.50" font-size="8.7" font-style="italic" fill="#1a5a9c">RSAD2</text>
<text x="396.50" y="235.30" font-size="8.7" font-style="italic" fill="#1a5a9c">IFIH1</text>
<text x="371.30" y="251.00" font-size="8.7" font-style="italic" fill="#1a5a9c">IFIT1</text>
<text x="400.50" y="248.10" font-size="8.7" font-style="italic" fill="#1a5a9c">OAS1</text>
<text x="429.70" y="251.00" font-size="8.7" font-style="italic" fill="#1a5a9c">IRF7</text>
<text x="383.00" y="262.00" font-size="8.7" font-style="italic" fill="#1a5a9c">IFI35</text>
<text x="402.30" y="276.20" font-size="8.7" font-style="italic" fill="#1a5a9c">HERC6</text>
<circle cx="489.30" cy="211.70" r="2.5" fill="#1a5a9c"/>
<text x="494.60" y="214.30" font-size="7.4">Down</text>
<circle cx="489.30" cy="221.20" r="2.5" fill="#c8102e"/>
<text x="494.60" y="223.80" font-size="7.4">Up</text>
<circle cx="489.30" cy="230.70" r="2.5" fill="#0a0a0a"/>
<text x="494.60" y="233.30" font-size="7.4">NA</text>
</g>
<g id="panelD">
<text x="0.90" y="321.40" font-size="11" font-weight="bold">D</text>
<text x="48.80" y="326.20" font-size="7.6" font-weight="bold">Gene</text>
<text x="48.80" y="335.00" font-size="7.6" font-weight="bold">expression</text>
<defs><linearGradient id="ge" x1="0" x2="0" y1="0" y2="1"><stop offset="0" stop-color="#c8152a"/><stop offset="0.2" stop-color="#dc5566"/><stop offset="0.38" stop-color="#efaab1"/><stop offset="0.52" stop-color="#ffffff"/><stop offset="0.65" stop-color="#bfd9ed"/><stop offset="0.8" stop-color="#72a9d8"/><stop offset="1" stop-color="#1f63a8"/></linearGradient></defs>
<rect x="50.00" y="339.60" width="6.50" height="93.10" fill="url(#ge)"/>
<line x1="56.50" y1="344.20" x2="57.70" y2="344.20" stroke="#555" stroke-width="0.5"/>
<text x="58.60" y="346.80" font-size="7.3">12</text>
<line x1="56.50" y1="359.20" x2="57.70" y2="359.20" stroke="#555" stroke-width="0.5"/>
<text x="58.60" y="361.80" font-size="7.3">11</text>
<line x1="56.50" y1="374.20" x2="57.70" y2="374.20" stroke="#555" stroke-width="0.5"/>
<text x="58.60" y="376.80" font-size="7.3">10</text>
<line x1="56.50" y1="389.20" x2="57.70" y2="389.20" stroke="#555" stroke-width="0.5"/>
<text x="58.60" y="391.80" font-size="7.3">9</text>
<line x1="56.50" y1="404.20" x2="57.70" y2="404.20" stroke="#555" stroke-width="0.5"/>
<text x="58.60" y="406.80" font-size="7.3">8</text>
<line x1="56.50" y1="419.20" x2="57.70" y2="419.20" stroke="#555" stroke-width="0.5"/>
<text x="58.60" y="421.80" font-size="7.3">7</text>
<text x="75.80" y="385.40" font-size="7.6" font-weight="bold">LPA signature score</text>
<rect x="75.80" y="388.50" width="9.60" height="11.05" fill="#2a9a57"/>
<rect x="75.80" y="399.55" width="9.60" height="11.05" fill="#55bd96"/>
<rect x="75.80" y="410.60" width="9.60" height="11.05" fill="#a5dcd6"/>
<rect x="75.80" y="421.65" width="9.60" height="11.05" fill="#e4f3f7"/>
<text x="88.60" y="396.20" font-size="7.3">0.13</text>
<text x="88.60" y="430.60" font-size="7.3">0.09</text>
<text x="112.70" y="407.30" font-size="7.6" font-weight="bold">Patient response</text>
<rect x="112.70" y="410.80" width="9.20" height="10.60" fill="#d8431f"/>
<rect x="112.70" y="422.20" width="9.20" height="10.50" fill="#1a1a1a"/>
<text x="125.00" y="418.50" font-size="7.4">Nonresponder</text>
<text x="125.00" y="430.00" font-size="7.4">Responder</text>
<g shape-rendering="crispEdges">
<rect x="40.50" y="502.40" width="5.12" height="9.55" fill="#c8142a"/>
<rect x="48.12" y="502.40" width="5.12" height="9.55" fill="#eb8a96"/>
<rect x="53.19" y="502.40" width="5.12" height="9.55" fill="#e67080"/>
<rect x="58.26" y="502.40" width="5.12" height="9.55" fill="#e67080"/>
<rect x="63.33" y="502.40" width="5.12" height="9.55" fill="#eb8a96"/>
<rect x="68.40" y="502.40" width="5.12" height="9.55" fill="#e0566a"/>
<rect x="73.47" y="502.40" width="5.12" height="9.55" fill="#eb8a96"/>
<rect x="78.54" y="502.40" width="5.12" height="9.55" fill="#f2acb4"/>
<rect x="83.61" y="502.40" width="5.12" height="9.55" fill="#eb8a96"/>
<rect x="88.68" y="502.40" width="5.12" height="9.55" fill="#e0566a"/>
<rect x="93.75" y="502.40" width="5.12" height="9.55" fill="#e67080"/>
<rect x="98.82" y="502.40" width="5.12" height="9.55" fill="#eb8a96"/>
<rect x="103.89" y="502.40" width="5.12" height="9.55" fill="#e0566a"/>
<rect x="108.96" y="502.40" width="5.12" height="9.55" fill="#e67080"/>
<rect x="116.58" y="502.40" width="5.12" height="9.55" fill="#5092ce"/>
<rect x="121.65" y="502.40" width="5.12" height="9.55" fill="#8cbae2"/>
<rect x="126.72" y="502.40" width="5.12" height="9.55" fill="#8cbae2"/>
<rect x="131.79" y="502.40" width="5.12" height="9.55" fill="#6ea6d8"/>
<rect x="139.41" y="502.40" width="5.12" height="9.55" fill="#ffffff"/>
<rect x="144.48" y="502.40" width="5.12" height="9.55" fill="#eb8a96"/>
<rect x="149.55" y="502.40" width="5.12" height="9.55" fill="#f9ced3"/>
<rect x="154.62" y="502.40" width="5.12" height="9.55" fill="#f9ced3"/>
<rect x="159.69" y="502.40" width="5.12" height="9.55" fill="#f2acb4"/>
<rect x="164.76" y="502.40" width="5.12" height="9.55" fill="#fce6e9"/>
<rect x="169.83" y="502.40" width="5.12" height="9.55" fill="#eb8a96"/>
<rect x="174.90" y="502.40" width="5.12" height="9.55" fill="#fce6e9"/>
<rect x="179.97" y="502.40" width="5.12" height="9.55" fill="#eb8a96"/>
<rect x="185.04" y="502.40" width="5.12" height="9.55" fill="#f9ced3"/>
<rect x="190.11" y="502.40" width="5.12" height="9.55" fill="#fce6e9"/>
<rect x="195.18" y="502.40" width="5.12" height="9.55" fill="#fce6e9"/>
<rect x="202.80" y="502.40" width="5.12" height="9.55" fill="#ffffff"/>
<rect x="207.87" y="502.40" width="5.12" height="9.55" fill="#fce6e9"/>
<rect x="212.94" y="502.40" width="5.12" height="9.55" fill="#ffffff"/>
<rect x="218.01" y="502.40" width="5.12" height="9.55" fill="#cde2f2"/>
<rect x="223.08" y="502.40" width="5.12" height="9.55" fill="#e6f0f8"/>
<rect x="228.15" y="502.40" width="5.12" height="9.55" fill="#e6f0f8"/>
<rect x="233.22" y="502.40" width="5.12" height="9.55" fill="#ffffff"/>
<rect x="238.29" y="502.40" width="5.12" height="9.55" fill="#f9ced3"/>
<rect x="243.36" y="502.40" width="5.12" height="9.55" fill="#ffffff"/>
<rect x="248.43" y="502.40" width="5.12" height="9.55" fill="#e6f0f8"/>
<rect x="253.50" y="502.40" width="5.12" height="9.55" fill="#8cbae2"/>
<rect x="258.57" y="502.40" width="5.12" height="9.55" fill="#8cbae2"/>
<rect x="263.64" y="502.40" width="5.12" height="9.55" fill="#acceea"/>
<rect x="268.71" y="502.40" width="5.12" height="9.55" fill="#acceea"/>
<rect x="40.50" y="511.90" width="5.12" height="9.55" fill="#c8142a"/>
<rect x="48.12" y="511.90" width="5.12" height="9.55" fill="#eb8a96"/>
<rect x="53.19" y="511.90" width="5.12" height="9.55" fill="#eb8a96"/>
<rect x="58.26" y="511.90" width="5.12" height="9.55" fill="#eb8a96"/>
<rect x="63.33" y="511.90" width="5.12" height="9.55" fill="#eb8a96"/>
<rect x="68.40" y="511.90" width="5.12" height="9.55" fill="#e67080"/>
<rect x="73.47" y="511.90" width="5.12" height="9.55" fill="#eb8a96"/>
<rect x="78.54" y="511.90" width="5.12" height="9.55" fill="#d84055"/>
<rect x="83.61" y="511.90" width="5.12" height="9.55" fill="#d84055"/>
<rect x="88.68" y="511.90" width="5.12" height="9.55" fill="#d84055"/>
<rect x="93.75" y="511.90" width="5.12" height="9.55" fill="#e67080"/>
<rect x="98.82" y="511.90" width="5.12" height="9.55" fill="#eb8a96"/>
<rect x="103.89" y="511.90" width="5.12" height="9.55" fill="#eb8a96"/>
<rect x="108.96" y="511.90" width="5.12" height="9.55" fill="#eb8a96"/>
<rect x="116.58" y="511.90" width="5.12" height="9.55" fill="#6ea6d8"/>
<rect x="121.65" y="511.90" width="5.12" height="9.55" fill="#5092ce"/>
<rect x="126.72" y="511.90" width="5.12" height="9.55" fill="#5092ce"/>
<rect x="131.79" y="511.90" width="5.12" height="9.55" fill="#8cbae2"/>
<rect x="139.41" y="511.90" width="5.12" height="9.55" fill="#ffffff"/>
<rect x="144.48" y="511.90" width="5.12" height="9.55" fill="#f2acb4"/>
<rect x="149.55" y="511.90" width="5.12" height="9.55" fill="#f2acb4"/>
<rect x="154.62" y="511.90" width="5.12" height="9.55" fill="#fce6e9"/>
<rect x="159.69" y="511.90" width="5.12" height="9.55" fill="#f9ced3"/>
<rect x="164.76" y="511.90" width="5.12" height="9.55" fill="#fce6e9"/>
<rect x="169.83" y="511.90" width="5.12" height="9.55" fill="#f2acb4"/>
<rect x="174.90" y="511.90" width="5.12" height="9.55" fill="#e67080"/>
<rect x="179.97" y="511.90" width="5.12" height="9.55" fill="#e67080"/>
<rect x="185.04" y="511.90" width="5.12" height="9.55" fill="#f9ced3"/>
<rect x="190.11" y="511.90" width="5.12" height="9.55" fill="#fce6e9"/>
<rect x="195.18" y="511.90" width="5.12" height="9.55" fill="#fce6e9"/>
<rect x="202.80" y="511.90" width="5.12" height="9.55" fill="#cde2f2"/>
<rect x="207.87" y="511.90" width="5.12" height="9.55" fill="#ffffff"/>
<rect x="212.94" y="511.90" width="5.12" height="9.55" fill="#ffffff"/>
<rect x="218.01" y="511.90" width="5.12" height="9.55" fill="#ffffff"/>
<rect x="223.08" y="511.90" width="5.12" height="9.55" fill="#cde2f2"/>
<rect x="228.15" y="511.90" width="5.12" height="9.55" fill="#cde2f2"/>
<rect x="233.22" y="511.90" width="5.12" height="9.55" fill="#ffffff"/>
<rect x="238.29" y="511.90" width="5.12" height="9.55" fill="#ffffff"/>
<rect x="243.36" y="511.90" width="5.12" height="9.55" fill="#ffffff"/>
<rect x="248.43" y="511.90" width="5.12" height="9.55" fill="#f9ced3"/>
<rect x="253.50" y="511.90" width="5.12" height="9.55" fill="#6ea6d8"/>
<rect x="258.57" y="511.90" width="5.12" height="9.55" fill="#6ea6d8"/>
<rect x="263.64" y="511.90" width="5.12" height="9.55" fill="#acceea"/>
<rect x="268.71" y="511.90" width="5.12" height="9.55" fill="#acceea"/>
<rect x="40.50" y="521.40" width="5.12" height="9.55" fill="#c8142a"/>
<rect x="48.12" y="521.40" width="5.12" height="9.55" fill="#eb8a96"/>
<rect x="53.19" y="521.40" width="5.12" height="9.55" fill="#e67080"/>
<rect x="58.26" y="521.40" width="5.12" height="9.55" fill="#e67080"/>
<rect x="63.33" y="521.40" width="5.12" height="9.55" fill="#f2acb4"/>
<rect x="68.40" y="521.40" width="5.12" height="9.55" fill="#e67080"/>
<rect x="73.47" y="521.40" width="5.12" height="9.55" fill="#eb8a96"/>
<rect x="78.54" y="521.40" width="5.12" height="9.55" fill="#f2acb4"/>
<rect x="83.61" y="521.40" width="5.12" height="9.55" fill="#d02a3f"/>
<rect x="88.68" y="521.40" width="5.12" height="9.55" fill="#eb8a96"/>
<rect x="93.75" y="521.40" width="5.12" height="9.55" fill="#e0566a"/>
<rect x="98.82" y="521.40" width="5.12" height="9.55" fill="#e67080"/>
<rect x="103.89" y="521.40" width="5.12" height="9.55" fill="#e67080"/>
<rect x="108.96" y="521.40" width="5.12" height="9.55" fill="#eb8a96"/>
<rect x="116.58" y="521.40" width="5.12" height="9.55" fill="#5092ce"/>
<rect x="121.65" y="521.40" width="5.12" height="9.55" fill="#acceea"/>
<rect x="126.72" y="521.40" width="5.12" height="9.55" fill="#acceea"/>
<rect x="131.79" y="521.40" width="5.12" height="9.55" fill="#8cbae2"/>
<rect x="139.41" y="521.40" width="5.12" height="9.55" fill="#e6f0f8"/>
<rect x="144.48" y="521.40" width="5.12" height="9.55" fill="#f9ced3"/>
<rect x="149.55" y="521.40" width="5.12" height="9.55" fill="#f2acb4"/>
<rect x="154.62" y="521.40" width="5.12" height="9.55" fill="#f2acb4"/>
<rect x="159.69" y="521.40" width="5.12" height="9.55" fill="#f2acb4"/>
<rect x="164.76" y="521.40" width="5.12" height="9.55" fill="#f9ced3"/>
<rect x="169.83" y="521.40" width="5.12" height="9.55" fill="#f2acb4"/>
<rect x="174.90" y="521.40" width="5.12" height="9.55" fill="#f9ced3"/>
<rect x="179.97" y="521.40" width="5.12" height="9.55" fill="#f9ced3"/>
<rect x="185.04" y="521.40" width="5.12" height="9.55" fill="#f9ced3"/>
<rect x="190.11" y="521.40" width="5.12" height="9.55" fill="#f9ced3"/>
<rect x="195.18" y="521.40" width="5.12" height="9.55" fill="#f9ced3"/>
<rect x="202.80" y="521.40" width="5.12" height="9.55" fill="#ffffff"/>
<rect x="207.87" y="521.40" width="5.12" height="9.55" fill="#fce6e9"/>
<rect x="212.94" y="521.40" width="5.12" height="9.55" fill="#ffffff"/>
<rect x="218.01" y="521.40" width="5.12" height="9.55" fill="#ffffff"/>
<rect x="223.08" y="521.40" width="5.12" height="9.55" fill="#fce6e9"/>
<rect x="228.15" y="521.40" width="5.12" height="9.55" fill="#fce6e9"/>
<rect x="233.22" y="521.40" width="5.12" height="9.55" fill="#ffffff"/>
<rect x="238.29" y="521.40" width="5.12" height="9.55" fill="#ffffff"/>
<rect x="243.36" y="521.40" width="5.12" height="9.55" fill="#f9ced3"/>
<rect x="248.43" y="521.40" width="5.12" height="9.55" fill="#ffffff"/>
<rect x="253.50" y="521.40" width="5.12" height="9.55" fill="#e6f0f8"/>
<rect x="258.57" y="521.40" width="5.12" height="9.55" fill="#fce6e9"/>
<rect x="263.64" y="521.40" width="5.12" height="9.55" fill="#cde2f2"/>
<rect x="268.71" y="521.40" width="5.12" height="9.55" fill="#e6f0f8"/>
<rect x="40.50" y="530.90" width="5.12" height="9.55" fill="#c8142a"/>
<rect x="48.12" y="530.90" width="5.12" height="9.55" fill="#f2acb4"/>
<rect x="53.19" y="530.90" width="5.12" height="9.55" fill="#e67080"/>
<rect x="58.26" y="530.90" width="5.12" height="9.55" fill="#e0566a"/>
<rect x="63.33" y="530.90" width="5.12" height="9.55" fill="#e67080"/>
<rect x="68.40" y="530.90" width="5.12" height="9.55" fill="#d84055"/>
<rect x="73.47" y="530.90" width="5.12" height="9.55" fill="#d84055"/>
<rect x="78.54" y="530.90" width="5.12" height="9.55" fill="#e67080"/>
<rect x="83.61" y="530.90" width="5.12" height="9.55" fill="#e67080"/>
<rect x="88.68" y="530.90" width="5.12" height="9.55" fill="#d84055"/>
<rect x="93.75" y="530.90" width="5.12" height="9.55" fill="#d84055"/>
<rect x="98.82" y="530.90" width="5.12" height="9.55" fill="#e0566a"/>
<rect x="103.89" y="530.90" width="5.12" height="9.55" fill="#e0566a"/>
<rect x="108.96" y="530.90" width="5.12" height="9.55" fill="#e0566a"/>
<rect x="116.58" y="530.90" width="5.12" height="9.55" fill="#6ea6d8"/>
<rect x="121.65" y="530.90" width="5.12" height="9.55" fill="#ffffff"/>
<rect x="126.72" y="530.90" width="5.12" height="9.55" fill="#fce6e9"/>
<rect x="131.79" y="530.90" width="5.12" height="9.55" fill="#ffffff"/>
<rect x="139.41" y="530.90" width="5.12" height="9.55" fill="#e67080"/>
<rect x="144.48" y="530.90" width="5.12" height="9.55" fill="#eb8a96"/>
<rect x="149.55" y="530.90" width="5.12" height="9.55" fill="#e67080"/>
<rect x="154.62" y="530.90" width="5.12" height="9.55" fill="#f2acb4"/>
<rect x="159.69" y="530.90" width="5.12" height="9.55" fill="#eb8a96"/>
<rect x="164.76" y="530.90" width="5.12" height="9.55" fill="#eb8a96"/>
<rect x="169.83" y="530.90" width="5.12" height="9.55" fill="#f2acb4"/>
<rect x="174.90" y="530.90" width="5.12" height="9.55" fill="#e0566a"/>
<rect x="179.97" y="530.90" width="5.12" height="9.55" fill="#e0566a"/>
<rect x="185.04" y="530.90" width="5.12" height="9.55" fill="#f9ced3"/>
<rect x="190.11" y="530.90" width="5.12" height="9.55" fill="#fce6e9"/>
<rect x="195.18" y="530.90" width="5.12" height="9.55" fill="#fce6e9"/>
<rect x="202.80" y="530.90" width="5.12" height="9.55" fill="#ffffff"/>
<rect x="207.87" y="530.90" width="5.12" height="9.55" fill="#f9ced3"/>
<rect x="212.94" y="530.90" width="5.12" height="9.55" fill="#f9ced3"/>
<rect x="218.01" y="530.90" width="5.12" height="9.55" fill="#ffffff"/>
<rect x="223.08" y="530.90" width="5.12" height="9.55" fill="#ffffff"/>
<rect x="228.15" y="530.90" width="5.12" height="9.55" fill="#ffffff"/>
<rect x="233.22" y="530.90" width="5.12" height="9.55" fill="#fce6e9"/>
<rect x="238.29" y="530.90" width="5.12" height="9.55" fill="#ffffff"/>
<rect x="243.36" y="530.90" width="5.12" height="9.55" fill="#f9ced3"/>
<rect x="248.43" y="530.90" width="5.12" height="9.55" fill="#f9ced3"/>
<rect x="253.50" y="530.90" width="5.12" height="9.55" fill="#ffffff"/>
<rect x="258.57" y="530.90" width="5.12" height="9.55" fill="#ffffff"/>
<rect x="263.64" y="530.90" width="5.12" height="9.55" fill="#f9ced3"/>
<rect x="268.71" y="530.90" width="5.12" height="9.55" fill="#ffffff"/>
<rect x="40.50" y="540.40" width="5.12" height="9.55" fill="#eb8a96"/>
<rect x="48.12" y="540.40" width="5.12" height="9.55" fill="#e6f0f8"/>
<rect x="53.19" y="540.40" width="5.12" height="9.55" fill="#e6f0f8"/>
<rect x="58.26" y="540.40" width="5.12" height="9.55" fill="#fce6e9"/>
<rect x="63.33" y="540.40" width="5.12" height="9.55" fill="#f9ced3"/>
<rect x="68.40" y="540.40" width="5.12" height="9.55" fill="#cde2f2"/>
<rect x="73.47" y="540.40" width="5.12" height="9.55" fill="#cde2f2"/>
<rect x="78.54" y="540.40" width="5.12" height="9.55" fill="#ffffff"/>
<rect x="83.61" y="540.40" width="5.12" height="9.55" fill="#ffffff"/>
<rect x="88.68" y="540.40" width="5.12" height="9.55" fill="#f9ced3"/>
<rect x="93.75" y="540.40" width="5.12" height="9.55" fill="#f9ced3"/>
<rect x="98.82" y="540.40" width="5.12" height="9.55" fill="#f9ced3"/>
<rect x="103.89" y="540.40" width="5.12" height="9.55" fill="#f9ced3"/>
<rect x="108.96" y="540.40" width="5.12" height="9.55" fill="#fce6e9"/>
<rect x="116.58" y="540.40" width="5.12" height="9.55" fill="#1b61ac"/>
<rect x="121.65" y="540.40" width="5.12" height="9.55" fill="#2d71b7"/>
<rect x="126.72" y="540.40" width="5.12" height="9.55" fill="#8cbae2"/>
<rect x="131.79" y="540.40" width="5.12" height="9.55" fill="#5092ce"/>
<rect x="139.41" y="540.40" width="5.12" height="9.55" fill="#8cbae2"/>
<rect x="144.48" y="540.40" width="5.12" height="9.55" fill="#8cbae2"/>
<rect x="149.55" y="540.40" width="5.12" height="9.55" fill="#8cbae2"/>
<rect x="154.62" y="540.40" width="5.12" height="9.55" fill="#8cbae2"/>
<rect x="159.69" y="540.40" width="5.12" height="9.55" fill="#acceea"/>
<rect x="164.76" y="540.40" width="5.12" height="9.55" fill="#6ea6d8"/>
<rect x="169.83" y="540.40" width="5.12" height="9.55" fill="#ffffff"/>
<rect x="174.90" y="540.40" width="5.12" height="9.55" fill="#ffffff"/>
<rect x="179.97" y="540.40" width="5.12" height="9.55" fill="#ffffff"/>
<rect x="185.04" y="540.40" width="5.12" height="9.55" fill="#fce6e9"/>
<rect x="190.11" y="540.40" width="5.12" height="9.55" fill="#ffffff"/>
<rect x="195.18" y="540.40" width="5.12" height="9.55" fill="#ffffff"/>
<rect x="202.80" y="540.40" width="5.12" height="9.55" fill="#acceea"/>
<rect x="207.87" y="540.40" width="5.12" height="9.55" fill="#8cbae2"/>
<rect x="212.94" y="540.40" width="5.12" height="9.55" fill="#8cbae2"/>
<rect x="218.01" y="540.40" width="5.12" height="9.55" fill="#acceea"/>
<rect x="223.08" y="540.40" width="5.12" height="9.55" fill="#8cbae2"/>
<rect x="228.15" y="540.40" width="5.12" height="9.55" fill="#8cbae2"/>
<rect x="233.22" y="540.40" width="5.12" height="9.55" fill="#acceea"/>
<rect x="238.29" y="540.40" width="5.12" height="9.55" fill="#acceea"/>
<rect x="243.36" y="540.40" width="5.12" height="9.55" fill="#acceea"/>
<rect x="248.43" y="540.40" width="5.12" height="9.55" fill="#cde2f2"/>
<rect x="253.50" y="540.40" width="5.12" height="9.55" fill="#6ea6d8"/>
<rect x="258.57" y="540.40" width="5.12" height="9.55" fill="#6ea6d8"/>
<rect x="263.64" y="540.40" width="5.12" height="9.55" fill="#cde2f2"/>
<rect x="268.71" y="540.40" width="5.12" height="9.55" fill="#5092ce"/>
<rect x="40.50" y="549.90" width="5.12" height="9.55" fill="#d84055"/>
<rect x="48.12" y="549.90" width="5.12" height="9.55" fill="#ffffff"/>
<rect x="53.19" y="549.90" width="5.12" height="9.55" fill="#eb8a96"/>
<rect x="58.26" y="549.90" width="5.12" height="9.55" fill="#eb8a96"/>
<rect x="63.33" y="549.90" width="5.12" height="9.55" fill="#f2acb4"/>
<rect x="68.40" y="549.90" width="5.12" height="9.55" fill="#e67080"/>
<rect x="73.47" y="549.90" width="5.12" height="9.55" fill="#f2acb4"/>
<rect x="78.54" y="549.90" width="5.12" height="9.55" fill="#e67080"/>
<rect x="83.61" y="549.90" width="5.12" height="9.55" fill="#e67080"/>
<rect x="88.68" y="549.90" width="5.12" height="9.55" fill="#e67080"/>
<rect x="93.75" y="549.90" width="5.12" height="9.55" fill="#e67080"/>
<rect x="98.82" y="549.90" width="5.12" height="9.55" fill="#e67080"/>
<rect x="103.89" y="549.90" width="5.12" height="9.55" fill="#f2acb4"/>
<rect x="108.96" y="549.90" width="5.12" height="9.55" fill="#f2acb4"/>
<rect x="116.58" y="549.90" width="5.12" height="9.55" fill="#2d71b7"/>
<rect x="121.65" y="549.90" width="5.12" height="9.55" fill="#5092ce"/>
<rect x="126.72" y="549.90" width="5.12" height="9.55" fill="#acceea"/>
<rect x="131.79" y="549.90" width="5.12" height="9.55" fill="#8cbae2"/>
<rect x="139.41" y="549.90" width="5.12" height="9.55" fill="#ffffff"/>
<rect x="144.48" y="549.90" width="5.12" height="9.55" fill="#fce6e9"/>
<rect x="149.55" y="549.90" width="5.12" height="9.55" fill="#ffffff"/>
<rect x="154.62" y="549.90" width="5.12" height="9.55" fill="#cde2f2"/>
<rect x="159.69" y="549.90" width="5.12" height="9.55" fill="#ffffff"/>
<rect x="164.76" y="549.90" width="5.12" height="9.55" fill="#ffffff"/>
<rect x="169.83" y="549.90" width="5.12" height="9.55" fill="#e6f0f8"/>
<rect x="174.90" y="549.90" width="5.12" height="9.55" fill="#e6f0f8"/>
<rect x="179.97" y="549.90" width="5.12" height="9.55" fill="#acceea"/>
<rect x="185.04" y="549.90" width="5.12" height="9.55" fill="#acceea"/>
<rect x="190.11" y="549.90" width="5.12" height="9.55" fill="#cde2f2"/>
<rect x="195.18" y="549.90" width="5.12" height="9.55" fill="#cde2f2"/>
<rect x="202.80" y="549.90" width="5.12" height="9.55" fill="#cde2f2"/>
<rect x="207.87" y="549.90" width="5.12" height="9.55" fill="#acceea"/>
<rect x="212.94" y="549.90" width="5.12" height="9.55" fill="#acceea"/>
<rect x="218.01" y="549.90" width="5.12" height="9.55" fill="#acceea"/>
<rect x="223.08" y="549.90" width="5.12" height="9.55" fill="#acceea"/>
<rect x="228.15" y="549.90" width="5.12" height="9.55" fill="#8cbae2"/>
<rect x="233.22" y="549.90" width="5.12" height="9.55" fill="#e6f0f8"/>
<rect x="238.29" y="549.90" width="5.12" height="9.55" fill="#ffffff"/>
<rect x="243.36" y="549.90" width="5.12" height="9.55" fill="#cde2f2"/>
<rect x="248.43" y="549.90" width="5.12" height="9.55" fill="#cde2f2"/>
<rect x="253.50" y="549.90" width="5.12" height="9.55" fill="#8cbae2"/>
<rect x="258.57" y="549.90" width="5.12" height="9.55" fill="#acceea"/>
<rect x="263.64" y="549.90" width="5.12" height="9.55" fill="#e6f0f8"/>
<rect x="268.71" y="549.90" width="5.12" height="9.55" fill="#acceea"/>
<rect x="40.50" y="559.40" width="5.12" height="9.55" fill="#fce6e9"/>
<rect x="48.12" y="559.40" width="5.12" height="9.55" fill="#fce6e9"/>
<rect x="53.19" y="559.40" width="5.12" height="9.55" fill="#f9ced3"/>
<rect x="58.26" y="559.40" width="5.12" height="9.55" fill="#fce6e9"/>
<rect x="63.33" y="559.40" width="5.12" height="9.55" fill="#f9ced3"/>
<rect x="68.40" y="559.40" width="5.12" height="9.55" fill="#f2acb4"/>
<rect x="73.47" y="559.40" width="5.12" height="9.55" fill="#fce6e9"/>
<rect x="78.54" y="559.40" width="5.12" height="9.55" fill="#f2acb4"/>
<rect x="83.61" y="559.40" width="5.12" height="9.55" fill="#f2acb4"/>
<rect x="88.68" y="559.40" width="5.12" height="9.55" fill="#f2acb4"/>
<rect x="93.75" y="559.40" width="5.12" height="9.55" fill="#f9ced3"/>
<rect x="98.82" y="559.40" width="5.12" height="9.55" fill="#ffffff"/>
<rect x="103.89" y="559.40" width="5.12" height="9.55" fill="#f9ced3"/>
<rect x="108.96" y="559.40" width="5.12" height="9.55" fill="#f9ced3"/>
<rect x="116.58" y="559.40" width="5.12" height="9.55" fill="#5092ce"/>
<rect x="121.65" y="559.40" width="5.12" height="9.55" fill="#acceea"/>
<rect x="126.72" y="559.40" width="5.12" height="9.55" fill="#cde2f2"/>
<rect x="131.79" y="559.40" width="5.12" height="9.55" fill="#acceea"/>
<rect x="139.41" y="559.40" width="5.12" height="9.55" fill="#e6f0f8"/>
<rect x="144.48" y="559.40" width="5.12" height="9.55" fill="#cde2f2"/>
<rect x="149.55" y="559.40" width="5.12" height="9.55" fill="#cde2f2"/>
<rect x="154.62" y="559.40" width="5.12" height="9.55" fill="#e6f0f8"/>
<rect x="159.69" y="559.40" width="5.12" height="9.55" fill="#6ea6d8"/>
<rect x="164.76" y="559.40" width="5.12" height="9.55" fill="#acceea"/>
<rect x="169.83" y="559.40" width="5.12" height="9.55" fill="#e6f0f8"/>
<rect x="174.90" y="559.40" width="5.12" height="9.55" fill="#e6f0f8"/>
<rect x="179.97" y="559.40" width="5.12" height="9.55" fill="#e6f0f8"/>
<rect x="185.04" y="559.40" width="5.12" height="9.55" fill="#e6f0f8"/>
<rect x="190.11" y="559.40" width="5.12" height="9.55" fill="#e6f0f8"/>
<rect x="195.18" y="559.40" width="5.12" height="9.55" fill="#ffffff"/>
<rect x="202.80" y="559.40" width="5.12" height="9.55" fill="#e6f0f8"/>
<rect x="207.87" y="559.40" width="5.12" height="9.55" fill="#cde2f2"/>
<rect x="212.94" y="559.40" width="5.12" height="9.55" fill="#cde2f2"/>
<rect x="218.01" y="559.40" width="5.12" height="9.55" fill="#cde2f2"/>
<rect x="223.08" y="559.40" width="5.12" height="9.55" fill="#acceea"/>
<rect x="228.15" y="559.40" width="5.12" height="9.55" fill="#acceea"/>
<rect x="233.22" y="559.40" width="5.12" height="9.55" fill="#cde2f2"/>
<rect x="238.29" y="559.40" width="5.12" height="9.55" fill="#cde2f2"/>
<rect x="243.36" y="559.40" width="5.12" height="9.55" fill="#cde2f2"/>
<rect x="248.43" y="559.40" width="5.12" height="9.55" fill="#cde2f2"/>
<rect x="253.50" y="559.40" width="5.12" height="9.55" fill="#acceea"/>
<rect x="258.57" y="559.40" width="5.12" height="9.55" fill="#8cbae2"/>
<rect x="263.64" y="559.40" width="5.12" height="9.55" fill="#e6f0f8"/>
<rect x="268.71" y="559.40" width="5.12" height="9.55" fill="#cde2f2"/>
<rect x="40.50" y="484.80" width="5.12" height="6.00" fill="#dff1f2"/>
<rect x="40.50" y="493.30" width="5.12" height="6.60" fill="#d8431f"/>
<rect x="48.12" y="484.80" width="5.12" height="6.00" fill="#b4e2e8"/>
<rect x="48.12" y="493.30" width="5.12" height="6.60" fill="#1a1a1a"/>
<rect x="53.19" y="484.80" width="5.12" height="6.00" fill="#b4e2e8"/>
<rect x="53.19" y="493.30" width="5.12" height="6.60" fill="#d8431f"/>
<rect x="58.26" y="484.80" width="5.12" height="6.00" fill="#b4e2e8"/>
<rect x="58.26" y="493.30" width="5.12" height="6.60" fill="#1a1a1a"/>
<rect x="63.33" y="484.80" width="5.12" height="6.00" fill="#b4e2e8"/>
<rect x="63.33" y="493.30" width="5.12" height="6.60" fill="#d8431f"/>
<rect x="68.40" y="484.80" width="5.12" height="6.00" fill="#b4e2e8"/>
<rect x="68.40" y="493.30" width="5.12" height="6.60" fill="#1a1a1a"/>
<rect x="73.47" y="484.80" width="5.12" height="6.00" fill="#b4e2e8"/>
<rect x="73.47" y="493.30" width="5.12" height="6.60" fill="#1a1a1a"/>
<rect x="78.54" y="484.80" width="5.12" height="6.00" fill="#b4e2e8"/>
<rect x="78.54" y="493.30" width="5.12" height="6.60" fill="#d8431f"/>
<rect x="83.61" y="484.80" width="5.12" height="6.00" fill="#b4e2e8"/>
<rect x="83.61" y="493.30" width="5.12" height="6.60" fill="#d8431f"/>
<rect x="88.68" y="484.80" width="5.12" height="6.00" fill="#b4e2e8"/>
<rect x="88.68" y="493.30" width="5.12" height="6.60" fill="#1a1a1a"/>
<rect x="93.75" y="484.80" width="5.12" height="6.00" fill="#b4e2e8"/>
<rect x="93.75" y="493.30" width="5.12" height="6.60" fill="#1a1a1a"/>
<rect x="98.82" y="484.80" width="5.12" height="6.00" fill="#b4e2e8"/>
<rect x="98.82" y="493.30" width="5.12" height="6.60" fill="#d8431f"/>
<rect x="103.89" y="484.80" width="5.12" height="6.00" fill="#b4e2e8"/>
<rect x="103.89" y="493.30" width="5.12" height="6.60" fill="#d8431f"/>
<rect x="108.96" y="484.80" width="5.12" height="6.00" fill="#b4e2e8"/>
<rect x="108.96" y="493.30" width="5.12" height="6.60" fill="#d8431f"/>
<rect x="116.58" y="484.80" width="5.12" height="6.00" fill="#1f8f4e"/>
<rect x="116.58" y="493.30" width="5.12" height="6.60" fill="#d8431f"/>
<rect x="121.65" y="484.80" width="5.12" height="6.00" fill="#36a668"/>
<rect x="121.65" y="493.30" width="5.12" height="6.60" fill="#d8431f"/>
<rect x="126.72" y="484.80" width="5.12" height="6.00" fill="#3fae74"/>
<rect x="126.72" y="493.30" width="5.12" height="6.60" fill="#d8431f"/>
<rect x="131.79" y="484.80" width="5.12" height="6.00" fill="#3aaa6e"/>
<rect x="131.79" y="493.30" width="5.12" height="6.60" fill="#d8431f"/>
<rect x="139.41" y="484.80" width="5.12" height="6.00" fill="#a6dcd8"/>
<rect x="139.41" y="493.30" width="5.12" height="6.60" fill="#d8431f"/>
<rect x="144.48" y="484.80" width="5.12" height="6.00" fill="#a6dcd8"/>
<rect x="144.48" y="493.30" width="5.12" height="6.60" fill="#d8431f"/>
<rect x="149.55" y="484.80" width="5.12" height="6.00" fill="#a6dcd8"/>
<rect x="149.55" y="493.30" width="5.12" height="6.60" fill="#d8431f"/>
<rect x="154.62" y="484.80" width="5.12" height="6.00" fill="#a6dcd8"/>
<rect x="154.62" y="493.30" width="5.12" height="6.60" fill="#d8431f"/>
<rect x="159.69" y="484.80" width="5.12" height="6.00" fill="#a6dcd8"/>
<rect x="159.69" y="493.30" width="5.12" height="6.60" fill="#1a1a1a"/>
<rect x="164.76" y="484.80" width="5.12" height="6.00" fill="#a6dcd8"/>
<rect x="164.76" y="493.30" width="5.12" height="6.60" fill="#d8431f"/>
<rect x="169.83" y="484.80" width="5.12" height="6.00" fill="#a6dcd8"/>
<rect x="169.83" y="493.30" width="5.12" height="6.60" fill="#d8431f"/>
<rect x="174.90" y="484.80" width="5.12" height="6.00" fill="#a6dcd8"/>
<rect x="174.90" y="493.30" width="5.12" height="6.60" fill="#d8431f"/>
<rect x="179.97" y="484.80" width="5.12" height="6.00" fill="#a6dcd8"/>
<rect x="179.97" y="493.30" width="5.12" height="6.60" fill="#d8431f"/>
<rect x="185.04" y="484.80" width="5.12" height="6.00" fill="#a6dcd8"/>
<rect x="185.04" y="493.30" width="5.12" height="6.60" fill="#d8431f"/>
<rect x="190.11" y="484.80" width="5.12" height="6.00" fill="#a6dcd8"/>
<rect x="190.11" y="493.30" width="5.12" height="6.60" fill="#d8431f"/>
<rect x="195.18" y="484.80" width="5.12" height="6.00" fill="#a6dcd8"/>
<rect x="195.18" y="493.30" width="5.12" height="6.60" fill="#1a1a1a"/>
<rect x="202.80" y="484.80" width="5.12" height="6.00" fill="#97d9ca"/>
<rect x="202.80" y="493.30" width="5.12" height="6.60" fill="#d8431f"/>
<rect x="207.87" y="484.80" width="5.12" height="6.00" fill="#97d9ca"/>
<rect x="207.87" y="493.30" width="5.12" height="6.60" fill="#d8431f"/>
<rect x="212.94" y="484.80" width="5.12" height="6.00" fill="#97d9ca"/>
<rect x="212.94" y="493.30" width="5.12" height="6.60" fill="#1a1a1a"/>
<rect x="218.01" y="484.80" width="5.12" height="6.00" fill="#97d9ca"/>
<rect x="218.01" y="493.30" width="5.12" height="6.60" fill="#d8431f"/>
<rect x="223.08" y="484.80" width="5.12" height="6.00" fill="#88d4c0"/>
<rect x="223.08" y="493.30" width="5.12" height="6.60" fill="#d8431f"/>
<rect x="228.15" y="484.80" width="5.12" height="6.00" fill="#88d4c0"/>
<rect x="228.15" y="493.30" width="5.12" height="6.60" fill="#d8431f"/>
<rect x="233.22" y="484.80" width="5.12" height="6.00" fill="#88d4c0"/>
<rect x="233.22" y="493.30" width="5.12" height="6.60" fill="#d8431f"/>
<rect x="238.29" y="484.80" width="5.12" height="6.00" fill="#7acdb4"/>
<rect x="238.29" y="493.30" width="5.12" height="6.60" fill="#d8431f"/>
<rect x="243.36" y="484.80" width="5.12" height="6.00" fill="#7acdb4"/>
<rect x="243.36" y="493.30" width="5.12" height="6.60" fill="#d8431f"/>
<rect x="248.43" y="484.80" width="5.12" height="6.00" fill="#7acdb4"/>
<rect x="248.43" y="493.30" width="5.12" height="6.60" fill="#d8431f"/>
<rect x="253.50" y="484.80" width="5.12" height="6.00" fill="#4fb98d"/>
<rect x="253.50" y="493.30" width="5.12" height="6.60" fill="#d8431f"/>
<rect x="258.57" y="484.80" width="5.12" height="6.00" fill="#47b485"/>
<rect x="258.57" y="493.30" width="5.12" height="6.60" fill="#d8431f"/>
<rect x="263.64" y="484.80" width="5.12" height="6.00" fill="#58bf97"/>
<rect x="263.64" y="493.30" width="5.12" height="6.60" fill="#d8431f"/>
<rect x="268.71" y="484.80" width="5.12" height="6.00" fill="#5fc39d"/>
<rect x="268.71" y="493.30" width="5.12" height="6.60" fill="#d8431f"/>
</g>
<text x="277.00" y="509.95" font-size="7.9" font-style="italic">MX1</text>
<text x="277.00" y="519.45" font-size="7.9" font-style="italic">IFIT1</text>
<text x="277.00" y="528.95" font-size="7.9" font-style="italic">IFIH1</text>
<text x="277.00" y="538.45" font-size="7.9" font-style="italic">OAS1</text>
<text x="277.00" y="547.95" font-size="7.9" font-style="italic">HERC6</text>
<text x="277.00" y="557.45" font-size="7.9" font-style="italic">RSAD2</text>
<text x="277.00" y="566.95" font-size="7.9" font-style="italic">IFI35</text>
<path d="M40.30 507.15 H32.40 V516.65 H40.30M40.30 526.15 H29.90 V535.65 H40.30M32.40 511.90 H28.60 V530.90 H29.90M40.30 554.65 H29.70 V564.15 H40.30M40.30 545.15 H26.60 V559.40 H29.70M28.60 521.40 H13.80 V552.27 H26.60" stroke="#1c1c1c" stroke-width="0.9" fill="none"/>
<path d="M60.80 483.60 V481.20 H65.86 V483.60 M55.72 483.60 V479.40 H63.33 V481.20 M50.66 483.60 V477.30 H59.53 V479.40 M70.94 483.60 V479.60 H76.00 V483.60 M81.07 483.60 V480.20 H86.14 V483.60 M96.28 483.60 V481.30 H101.35 V483.60 M91.21 483.60 V479.80 H98.82 V481.30 M106.42 483.60 V480.40 H111.49 V483.60 M95.02 479.80 V478.00 H108.96 V480.40 M83.61 480.20 V476.40 H101.99 V478.00 M73.47 479.60 V475.20 H92.80 V476.40 M55.09 477.30 V473.80 H83.13 V475.20 M43.03 483.60 V467.90 H69.11 V473.80 M129.25 483.60 V478.80 H134.32 V483.60 M124.18 483.60 V476.20 H131.79 V478.80 M119.11 483.60 V469.80 H127.99 V476.20 M147.01 483.60 V480.60 H152.08 V483.60 M162.22 483.60 V481.20 H167.29 V483.60 M157.15 483.60 V479.60 H164.76 V481.20 M149.55 480.60 V478.50 H160.96 V479.60 M141.94 483.60 V477.00 H155.25 V478.50 M177.43 483.60 V481.20 H182.50 V483.60 M172.36 483.60 V479.50 H179.97 V481.20 M192.64 483.60 V480.60 H197.71 V483.60 M187.57 483.60 V478.00 H195.18 V480.60 M176.17 479.50 V476.50 H191.38 V478.00 M148.60 477.00 V474.50 H183.77 V476.50 M205.33 483.60 V481.20 H210.40 V483.60 M220.54 483.60 V481.60 H225.61 V483.60 M215.47 483.60 V480.30 H223.08 V481.60 M207.87 481.20 V479.50 H219.28 V480.30 M235.75 483.60 V481.60 H240.82 V483.60 M230.68 483.60 V480.50 H238.29 V481.60 M245.89 483.60 V480.00 H250.96 V483.60 M234.49 480.50 V479.00 H248.43 V480.00 M213.57 479.50 V477.60 H241.46 V479.00 M256.03 483.60 V479.60 H261.10 V483.60 M266.17 483.60 V478.20 H271.24 V483.60 M258.57 479.60 V477.00 H268.71 V478.20 M227.52 477.60 V473.60 H263.64 V477.00 M166.19 474.50 V467.60 H245.58 V473.60 M123.55 469.80 V458.00 H205.88 V467.60 M56.07 467.90 V442.30 H164.72 V458.00" stroke="#1c1c1c" stroke-width="0.85" fill="none" stroke-linejoin="miter"/>
<path d="M42.5 572.2 V575.6 H112.8 V572.2" stroke="#4a4a4a" stroke-width="0.8" fill="none"/>
<path d="M118.3 572.2 V575.6 H272.2 V572.2" stroke="#4a4a4a" stroke-width="0.8" fill="none"/>
<text x="77.70" y="583.80" font-size="6.4" text-anchor="middle">66.6% of responder group</text>
<text x="77.70" y="591.60" font-size="6.4" text-anchor="middle">22.8% of nonresponder group</text>
<text x="195.00" y="583.80" font-size="6.4" text-anchor="middle">33.3% of responder group</text>
<text x="195.00" y="591.60" font-size="6.4" text-anchor="middle">77.1% of nonresponder group</text>
</g>
<g id="panelE">
<text x="326.00" y="441.90" font-size="11" font-weight="bold">E</text>
<line x1="366.70" y1="443.90" x2="366.70" y2="575.90" stroke="#555555" stroke-width="1.2"/>
<line x1="366.50" y1="575.30" x2="492.60" y2="575.30" stroke="#555555" stroke-width="1.2"/>
<line x1="363.90" y1="453.90" x2="366.50" y2="453.90" stroke="#333" stroke-width="0.9"/>
<text x="362.50" y="456.70" font-size="7.6" text-anchor="end">0.150</text>
<line x1="363.90" y1="492.10" x2="366.50" y2="492.10" stroke="#333" stroke-width="0.9"/>
<text x="362.50" y="494.90" font-size="7.6" text-anchor="end">0.125</text>
<line x1="363.90" y1="530.30" x2="366.50" y2="530.30" stroke="#333" stroke-width="0.9"/>
<text x="362.50" y="533.10" font-size="7.6" text-anchor="end">0.100</text>
<line x1="363.90" y1="568.50" x2="366.50" y2="568.50" stroke="#333" stroke-width="0.9"/>
<text x="362.50" y="571.30" font-size="7.6" text-anchor="end">0.075</text>
<line x1="401.20" y1="575.30" x2="401.20" y2="577.90" stroke="#333" stroke-width="0.9"/>
<text x="401.20" y="586.40" font-size="7.5" text-anchor="middle">Nonresponder</text>
<line x1="460.60" y1="575.30" x2="460.60" y2="577.90" stroke="#333" stroke-width="0.9"/>
<text x="460.60" y="586.40" font-size="7.5" text-anchor="middle">Responder</text>
<text x="334.00" y="511.00" font-size="8.5" text-anchor="middle" transform="rotate(-90 334.00 511.00)">LPA signature score</text>
<path d="M400.5 446.4 V443.4 H459.7 V446.4" stroke="#6a6a6a" stroke-width="0.9" fill="none"/>
<text x="431.60" y="439.80" font-size="7.5" text-anchor="middle"><tspan font-style="italic">P</tspan> = 0.023</text>
<path d="M401.40 449.92 C401.50 452.20 401.79 459.36 401.99 463.61 C402.19 467.86 402.29 471.87 402.58 475.41 C402.88 478.95 402.90 482.10 403.76 484.85 C404.63 487.61 406.36 489.58 407.77 491.94 C409.19 494.30 410.92 496.66 412.26 499.02 C413.60 501.38 414.70 503.42 415.80 506.10 C416.90 508.78 418.67 512.32 418.87 515.07 C419.07 517.82 417.93 520.19 416.98 522.63 C416.04 525.06 414.38 527.35 413.20 529.71 C412.02 532.07 411.00 534.43 409.90 536.79 C408.80 539.15 407.62 541.51 406.59 543.87 C405.57 546.23 404.43 548.59 403.76 550.95 C403.09 553.31 402.90 555.68 402.58 558.04 C402.27 560.40 402.07 562.95 401.87 565.12 C401.68 567.28 401.48 570.04 401.40 571.02 C401.32 572.00 401.48 572.00 401.40 571.02 C401.32 570.04 401.12 567.28 400.93 565.12 C400.73 562.95 400.53 560.40 400.22 558.04 C399.90 555.68 399.71 553.31 399.04 550.95 C398.37 548.59 397.23 546.23 396.21 543.87 C395.18 541.51 394.00 539.15 392.90 536.79 C391.80 534.43 390.78 532.07 389.60 529.71 C388.42 527.35 386.76 525.06 385.82 522.63 C384.87 520.19 383.73 517.82 383.93 515.07 C384.13 512.32 385.90 508.78 387.00 506.10 C388.10 503.42 389.20 501.38 390.54 499.02 C391.88 496.66 393.61 494.30 395.03 491.94 C396.44 489.58 398.17 487.61 399.04 484.85 C399.90 482.10 399.92 478.95 400.22 475.41 C400.51 471.87 400.61 467.86 400.81 463.61 C401.01 459.36 401.30 452.20 401.40 449.92 C401.50 447.63 401.30 447.63 401.40 449.92 Z" stroke="#1a1a1a" stroke-width="1.0" fill="#ffffff"/>
<path d="M459.90 496.02 C460.04 496.86 460.24 499.53 460.74 501.08 C461.25 502.63 461.81 503.75 462.94 505.30 C464.06 506.84 465.97 508.67 467.49 510.35 C469.01 512.04 470.55 513.73 472.04 515.41 C473.53 517.10 475.13 518.79 476.43 520.47 C477.72 522.16 478.67 523.84 479.80 525.53 C480.92 527.22 481.93 528.68 483.17 530.59 C484.41 532.50 486.88 535.31 487.22 537.00 C487.56 538.68 486.52 539.53 485.20 540.71 C483.87 541.89 481.54 542.96 479.29 544.08 C477.04 545.21 474.09 546.33 471.70 547.45 C469.32 548.58 466.70 549.70 464.96 550.83 C463.22 551.95 462.09 552.79 461.25 554.20 C460.41 555.60 460.12 558.41 459.90 559.26 C459.68 560.10 460.12 560.10 459.90 559.26 C459.68 558.41 459.39 555.60 458.55 554.20 C457.71 552.79 456.58 551.95 454.84 550.83 C453.10 549.70 450.48 548.58 448.10 547.45 C445.71 546.33 442.76 545.21 440.51 544.08 C438.26 542.96 435.93 541.89 434.60 540.71 C433.28 539.53 432.24 538.68 432.58 537.00 C432.92 535.31 435.39 532.50 436.63 530.59 C437.87 528.68 438.88 527.22 440.00 525.53 C441.13 523.84 442.08 522.16 443.37 520.47 C444.67 518.79 446.27 517.10 447.76 515.41 C449.25 513.73 450.79 512.04 452.31 510.35 C453.83 508.67 455.74 506.84 456.86 505.30 C457.99 503.75 458.55 502.63 459.06 501.08 C459.56 499.53 459.76 496.86 459.90 496.02 C460.04 495.18 459.76 495.18 459.90 496.02 Z" stroke="#1a1a1a" stroke-width="1.0" fill="#ffffff"/>
<line x1="401.40" y1="490.80" x2="401.40" y2="548.60" stroke="#2a2a2a" stroke-width="0.8"/>
<rect x="395.50" y="509.20" width="11.80" height="21.20" fill="#ffffff" stroke="#2a2a2a" stroke-width="0.8"/>
<line x1="395.50" y1="517.20" x2="407.30" y2="517.20" stroke="#2a2a2a" stroke-width="1.4"/>
<line x1="459.90" y1="512.90" x2="459.90" y2="540.50" stroke="#2a2a2a" stroke-width="0.8"/>
<rect x="454.00" y="522.20" width="12.00" height="16.30" fill="#ffffff" stroke="#2a2a2a" stroke-width="0.8"/>
<line x1="454.00" y1="534.30" x2="466.00" y2="534.30" stroke="#2a2a2a" stroke-width="1.6"/>
<circle cx="396.90" cy="470.00" r="1.6" fill="#7a6a66"/>
<circle cx="407.30" cy="490.30" r="1.6" fill="#5bb4e3"/>
<circle cx="410.60" cy="494.30" r="1.6" fill="#c4177c"/>
<circle cx="394.30" cy="497.40" r="1.6" fill="#c4177c"/>
<circle cx="399.50" cy="498.30" r="1.6" fill="#c4177c"/>
<circle cx="408.50" cy="497.40" r="1.6" fill="#5bb4e3"/>
<circle cx="411.30" cy="501.90" r="1.6" fill="#6c8db5"/>
<circle cx="409.00" cy="508.50" r="1.6" fill="#5bb4e3"/>
<circle cx="407.80" cy="509.20" r="1.6" fill="#c4177c"/>
<circle cx="391.20" cy="511.50" r="1.6" fill="#5bb4e3"/>
<circle cx="393.60" cy="515.10" r="1.6" fill="#c4177c"/>
<circle cx="397.90" cy="513.20" r="1.6" fill="#5bb4e3"/>
<circle cx="402.10" cy="514.60" r="1.6" fill="#3d7fbf"/>
<circle cx="411.80" cy="512.70" r="1.6" fill="#5bb4e3"/>
<circle cx="401.40" cy="516.70" r="1.6" fill="#c4177c"/>
<circle cx="395.50" cy="519.10" r="1.6" fill="#5bb4e3"/>
<circle cx="403.30" cy="521.00" r="1.6" fill="#5bb4e3"/>
<circle cx="409.00" cy="522.60" r="1.6" fill="#c4177c"/>
<circle cx="406.60" cy="523.80" r="1.6" fill="#c4177c"/>
<circle cx="390.80" cy="525.00" r="1.6" fill="#5bb4e3"/>
<circle cx="396.00" cy="528.50" r="1.6" fill="#c4177c"/>
<circle cx="394.30" cy="530.90" r="1.6" fill="#c4177c"/>
<circle cx="397.90" cy="530.90" r="1.6" fill="#5bb4e3"/>
<circle cx="405.40" cy="530.40" r="1.6" fill="#5bb4e3"/>
<circle cx="400.20" cy="535.60" r="1.6" fill="#5bb4e3"/>
<circle cx="410.10" cy="537.50" r="1.6" fill="#c4177c"/>
<circle cx="407.80" cy="539.20" r="1.6" fill="#c4177c"/>
<circle cx="403.80" cy="540.30" r="1.6" fill="#c4177c"/>
<circle cx="400.70" cy="540.30" r="1.6" fill="#5bb4e3"/>
<circle cx="397.90" cy="550.50" r="1.6" fill="#5bb4e3"/>
<circle cx="459.90" cy="512.90" r="1.6" fill="#7a5a50"/>
<circle cx="456.20" cy="521.00" r="1.6" fill="#5bb4e3"/>
<circle cx="451.50" cy="529.20" r="1.6" fill="#5bb4e3"/>
<circle cx="459.60" cy="534.30" r="1.6" fill="#c4177c"/>
<circle cx="454.50" cy="536.50" r="1.6" fill="#5bb4e3"/>
<circle cx="457.90" cy="539.00" r="1.6" fill="#5bb4e3"/>
<circle cx="459.90" cy="542.70" r="1.6" fill="#c4177c"/>
<circle cx="469.20" cy="463.80" r="1.4" fill="#5bb4e3"/>
<text x="473.20" y="466.40" font-size="7.5">HRD positive</text>
<circle cx="469.20" cy="470.75" r="1.4" fill="#c4177c"/>
<text x="473.20" y="473.35" font-size="7.5">HRD negative</text>
<circle cx="469.20" cy="477.70" r="1.4" fill="#7a6a66"/>
<text x="473.20" y="480.30" font-size="7.5">NA</text>
</g>
</svg>
</body></html>
